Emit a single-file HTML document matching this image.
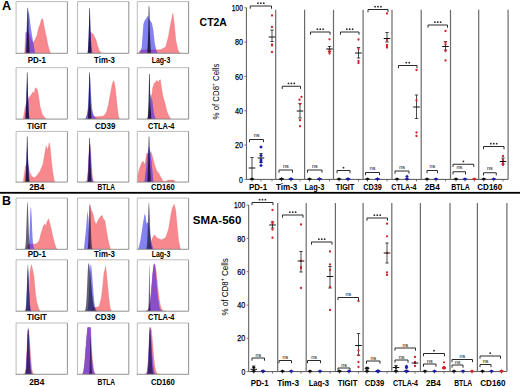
<!DOCTYPE html>
<html><head><meta charset="utf-8"><style>
html,body{margin:0;padding:0;background:#fff;width:520px;height:387px;overflow:hidden}
svg{display:block}
text{font-family:"Liberation Sans",sans-serif;fill:#000}
</style></head><body>
<svg width="520" height="387" viewBox="0 0 520 387" font-family="Liberation Sans, sans-serif">
<rect width="520" height="387" fill="#fff"/>
<defs></defs>
<clipPath id="c16_1"><rect x="16.1" y="1.6" width="51.3" height="51.7"/></clipPath>
<g clip-path="url(#c16_1)">
<polygon points="24.70,53.30 24.70,53.30 24.90,49.10 25.10,44.90 25.30,40.70 25.50,36.50 25.70,32.30 25.90,32.30 26.10,32.30 26.30,32.30 26.50,32.30 26.70,32.30 26.90,32.30 27.10,32.30 27.30,32.30 27.50,32.30 27.70,32.30 27.90,32.30 28.10,32.30 28.30,32.30 28.50,32.30 28.70,32.78 28.90,33.25 29.10,33.73 29.30,34.20 29.50,34.68 29.70,35.16 29.90,35.63 30.10,36.11 30.30,36.59 30.50,37.06 30.70,37.54 30.90,38.02 31.10,38.50 31.30,38.99 31.50,39.47 31.70,39.95 31.90,40.43 32.10,40.91 32.30,41.40 32.50,41.88 32.70,42.36 32.90,42.50 33.10,42.30 33.30,42.10 33.50,41.90 33.70,41.70 33.90,41.50 34.10,41.30 34.30,41.00 34.50,40.60 34.70,40.20 34.90,39.80 35.10,39.40 35.30,39.00 35.50,38.60 35.70,38.19 35.90,37.78 36.10,37.36 36.30,36.95 36.50,36.54 36.70,36.12 36.90,35.71 37.10,35.03 37.30,34.08 37.50,33.13 37.70,32.19 37.90,31.24 38.10,30.29 38.30,29.35 38.50,28.40 38.70,27.90 38.90,27.40 39.10,26.90 39.30,26.40 39.50,25.90 39.70,25.40 39.90,24.90 40.10,24.25 40.30,23.59 40.50,22.94 40.70,22.28 40.90,21.63 41.10,21.02 41.30,20.46 41.50,19.90 41.70,19.34 41.90,18.78 42.10,18.64 42.30,18.92 42.50,19.20 42.70,19.48 42.90,19.76 43.10,20.53 43.30,21.80 43.50,23.07 43.70,24.33 43.90,25.60 44.10,26.55 44.30,27.50 44.50,28.45 44.70,29.40 44.90,30.35 45.10,31.30 45.30,32.25 45.50,33.19 45.70,34.14 45.90,35.09 46.10,36.03 46.30,36.98 46.50,37.93 46.70,38.91 46.90,39.92 47.10,40.94 47.30,41.95 47.50,42.96 47.70,43.98 47.90,44.99 48.10,45.86 48.30,46.57 48.50,47.28 48.70,47.99 48.90,48.70 49.10,49.41 49.30,50.12 49.50,50.83 49.70,51.54 49.90,52.01 50.10,52.22 50.30,52.44 50.50,52.65 50.70,52.87 50.90,53.08 51.10,53.30 51.10,53.30" fill="#f6888e" stroke="#e87070" stroke-width="0.4"/>
<polygon points="25.50,53.30 25.50,53.30 25.70,48.68 25.90,44.07 26.10,39.45 26.30,34.84 26.50,30.22 26.70,25.61 26.90,21.55 27.10,18.05 27.30,14.55 27.50,11.05 27.70,9.63 27.90,10.30 28.10,10.97 28.30,11.59 28.50,12.17 28.70,12.75 28.90,13.33 29.10,13.91 29.30,15.04 29.50,16.71 29.70,18.38 29.90,20.05 30.10,21.72 30.30,23.39 30.50,25.06 30.70,26.73 30.90,28.40 31.10,29.63 31.30,30.87 31.50,32.10 31.70,33.34 31.90,34.57 32.10,35.81 32.30,37.04 32.50,38.28 32.70,39.51 32.90,40.75 33.10,41.98 33.30,43.19 33.50,44.36 33.70,45.54 33.90,46.72 34.10,47.89 34.30,49.07 34.50,50.25 34.70,51.42 34.90,52.60 35.10,52.80 35.30,53.00 35.50,53.20 35.70,53.30 35.70,53.30" fill="#8282f0"/>
<polygon points="25.50,53.30 25.50,53.30 25.70,48.68 25.90,44.07 26.10,39.45 26.30,34.84 26.50,32.30 26.70,32.30 26.90,32.30 27.10,32.30 27.30,32.30 27.50,32.30 27.70,32.30 27.90,32.30 28.10,32.30 28.30,32.30 28.50,32.30 28.70,32.78 28.90,33.25 29.10,33.73 29.30,34.20 29.50,34.68 29.70,35.16 29.90,35.63 30.10,36.11 30.30,36.59 30.50,37.06 30.70,37.54 30.90,38.02 31.10,38.50 31.30,38.99 31.50,39.47 31.70,39.95 31.90,40.43 32.10,40.91 32.30,41.40 32.50,41.88 32.70,42.36 32.90,42.50 33.10,42.30 33.30,43.19 33.50,44.36 33.70,45.54 33.90,46.72 34.10,47.89 34.30,49.07 34.50,50.25 34.70,51.42 34.90,52.60 35.10,52.80 35.30,53.00 35.50,53.20 35.70,53.30 35.70,53.30" fill="#8a4ecb"/>
<polygon points="26.10,53.30 26.10,53.30 26.30,49.14 26.50,44.97 26.70,40.81 26.90,36.06 27.10,28.57 27.30,19.17 27.50,7.80 27.70,7.80 27.90,7.80 28.10,7.80 28.30,13.49 28.50,25.81 28.70,32.51 28.90,38.40 29.10,42.12 29.30,45.85 29.50,49.57 29.70,53.30 29.70,53.30" fill="#141030" fill-opacity="0.85"/>
</g>
<path d="M16.1,53.300000000000004 V1.6 H67.4" fill="none" stroke="#b4b4b4" stroke-width="0.9"/>
<path d="M67.4,1.6 V53.300000000000004 H15.650000000000002" fill="none" stroke="#858585" stroke-width="0.9"/>
<clipPath id="c77_1"><rect x="77.5" y="1.6" width="51.3" height="51.7"/></clipPath>
<g clip-path="url(#c77_1)">
<polygon points="88.10,53.30 88.10,53.30 88.30,52.29 88.50,50.26 88.70,48.23 88.90,46.20 89.10,44.17 89.30,42.14 89.50,40.11 89.70,38.09 89.90,36.06 90.10,34.03 90.30,32.00 90.50,32.15 90.70,32.29 90.90,32.44 91.10,32.59 91.30,32.74 91.50,32.88 91.70,33.03 91.90,33.18 92.10,33.33 92.30,33.47 92.50,33.62 92.70,33.77 92.90,33.92 93.10,34.06 93.30,34.40 93.50,34.80 93.70,35.20 93.90,35.60 94.10,36.00 94.30,36.40 94.50,36.80 94.70,37.20 94.90,37.60 95.10,38.00 95.30,38.40 95.50,38.80 95.70,39.20 95.90,39.60 96.10,40.21 96.30,41.02 96.50,41.84 96.70,42.65 96.90,43.46 97.10,44.28 97.30,45.09 97.50,45.76 97.70,46.29 97.90,46.82 98.10,47.35 98.30,47.87 98.50,48.40 98.70,48.93 98.90,49.45 99.10,49.98 99.30,50.51 99.50,51.04 99.70,51.41 99.90,51.62 100.10,51.83 100.30,52.04 100.50,52.25 100.70,52.46 100.90,52.67 101.10,52.88 101.30,53.09 101.50,53.30 101.50,53.30" fill="#f6888e" stroke="#e87070" stroke-width="0.4"/>
<polygon points="86.30,53.30 86.30,53.29 86.50,53.28 86.70,53.25 86.90,53.17 87.10,53.01 87.30,52.69 87.50,52.09 87.70,51.04 87.90,49.33 88.10,46.75 88.30,43.15 88.50,38.53 88.70,33.12 88.90,27.39 89.10,22.04 89.30,17.88 89.50,15.60 89.70,15.49 89.90,16.97 90.10,19.77 90.30,23.56 90.50,27.95 90.70,32.55 90.90,36.98 91.10,40.96 91.30,44.34 91.50,47.05 91.70,49.11 91.90,50.60 92.10,51.63 92.30,52.31 92.50,52.73 92.70,52.99 92.90,53.14 93.10,53.22 93.30,53.26 93.50,53.28 93.50,53.30" fill="#8282f0"/>
<polygon points="88.10,53.30 88.10,53.30 88.30,52.29 88.50,50.26 88.70,48.23 88.90,46.20 89.10,44.17 89.30,42.14 89.50,40.11 89.70,38.09 89.90,36.06 90.10,34.03 90.30,32.00 90.50,32.15 90.70,32.55 90.90,36.98 91.10,40.96 91.30,44.34 91.50,47.05 91.70,49.11 91.90,50.60 92.10,51.63 92.30,52.31 92.50,52.73 92.70,52.99 92.90,53.14 93.10,53.22 93.30,53.26 93.50,53.28 93.50,53.30" fill="#8a4ecb"/>
<polygon points="87.90,53.30 87.90,53.30 88.10,49.18 88.30,45.06 88.50,40.95 88.70,36.25 88.90,28.84 89.10,19.55 89.30,8.30 89.50,8.30 89.70,8.30 89.90,8.30 90.10,13.93 90.30,26.11 90.50,32.74 90.70,38.56 90.90,42.25 91.10,45.93 91.30,49.62 91.50,53.30 91.50,53.30" fill="#141030" fill-opacity="0.85"/>
</g>
<path d="M77.5,53.300000000000004 V1.6 H128.8" fill="none" stroke="#b4b4b4" stroke-width="0.9"/>
<path d="M128.8,1.6 V53.300000000000004 H77.05" fill="none" stroke="#858585" stroke-width="0.9"/>
<clipPath id="c137_1"><rect x="137.3" y="1.6" width="51.3" height="51.7"/></clipPath>
<g clip-path="url(#c137_1)">
<polygon points="138.30,53.30 138.30,53.30 138.50,53.00 138.70,52.70 138.90,52.40 139.10,52.10 139.30,51.80 139.50,51.50 139.70,51.20 139.90,50.90 140.10,50.60 140.30,50.30 140.50,50.27 140.70,50.24 140.90,50.21 141.10,50.19 141.30,50.16 141.50,50.13 141.70,50.10 141.90,50.07 142.10,50.04 142.30,50.01 142.50,49.99 142.70,49.96 142.90,49.93 143.10,49.90 143.30,49.87 143.50,49.84 143.70,49.81 143.90,49.79 144.10,49.76 144.30,49.73 144.50,49.70 144.70,49.67 144.90,49.64 145.10,49.61 145.30,49.59 145.50,49.56 145.70,49.53 145.90,49.50 146.10,49.47 146.30,49.44 146.50,49.41 146.70,49.39 146.90,49.36 147.10,49.33 147.30,49.30 147.50,49.31 147.70,49.32 147.90,49.33 148.10,49.34 148.30,49.35 148.50,49.36 148.70,49.37 148.90,49.38 149.10,49.39 149.30,49.40 149.50,49.41 149.70,49.42 149.90,49.43 150.10,49.44 150.30,49.45 150.50,49.46 150.70,49.47 150.90,49.48 151.10,49.49 151.30,49.50 151.50,49.51 151.70,49.52 151.90,49.53 152.10,49.54 152.30,49.55 152.50,49.56 152.70,49.57 152.90,49.58 153.10,49.59 153.30,49.60 153.50,49.61 153.70,49.62 153.90,49.63 154.10,49.64 154.30,49.65 154.50,49.66 154.70,49.67 154.90,49.68 155.10,49.69 155.30,49.70 155.50,49.71 155.70,49.72 155.90,49.73 156.10,49.74 156.30,49.75 156.50,49.76 156.70,49.77 156.90,49.78 157.10,49.79 157.30,49.80 157.50,49.79 157.70,49.79 157.90,49.78 158.10,49.78 158.30,49.77 158.50,49.77 158.70,49.76 158.90,49.75 159.10,49.75 159.30,49.74 159.50,49.74 159.70,49.73 159.90,49.73 160.10,49.72 160.30,49.71 160.50,49.71 160.70,49.70 160.90,49.64 161.10,49.53 161.30,49.42 161.50,49.31 161.70,49.20 161.90,49.08 162.10,48.97 162.30,48.86 162.50,48.75 162.70,48.64 162.90,48.52 163.10,48.41 163.30,48.30 163.50,48.19 163.70,48.08 163.90,47.96 164.10,47.85 164.30,47.74 164.50,47.63 164.70,47.52 164.90,47.40 165.10,47.29 165.30,47.18 165.50,47.07 165.70,46.96 165.90,46.51 166.10,45.72 166.30,44.93 166.50,44.15 166.70,43.36 166.90,42.58 167.10,41.79 167.30,41.00 167.50,40.22 167.70,39.43 167.90,38.64 168.10,37.86 168.30,37.07 168.50,36.29 168.70,35.50 168.90,34.34 169.10,33.18 169.30,32.01 169.50,30.85 169.70,29.69 169.90,28.53 170.10,27.37 170.30,26.20 170.50,25.04 170.70,23.88 170.90,22.83 171.10,21.90 171.30,20.97 171.50,20.03 171.70,19.10 171.90,18.17 172.10,17.23 172.30,16.30 172.50,15.37 172.70,14.43 172.90,13.50 173.10,15.04 173.30,16.59 173.50,18.13 173.70,19.67 173.90,21.21 174.10,22.76 174.30,24.30 174.50,26.51 174.70,28.73 174.90,30.94 175.10,33.16 175.30,35.37 175.50,37.59 175.70,39.80 175.90,40.74 176.10,41.69 176.30,42.63 176.50,43.57 176.70,44.51 176.90,45.46 177.10,46.40 177.30,47.34 177.50,48.29 177.70,49.23 177.90,49.91 178.10,50.32 178.30,50.73 178.50,51.15 178.70,51.56 178.90,51.97 179.10,52.39 179.30,52.80 179.50,52.85 179.70,52.90 179.90,52.95 180.10,53.00 180.30,53.05 180.50,53.10 180.70,53.15 180.90,53.20 181.10,53.25 181.30,53.30 181.30,53.30" fill="#f6888e" stroke="#e87070" stroke-width="0.4"/>
<polygon points="139.70,53.30 139.70,53.30 139.90,52.98 140.10,52.35 140.30,51.72 140.50,51.09 140.70,50.46 140.90,49.83 141.10,49.19 141.30,48.56 141.50,47.93 141.70,47.30 141.90,44.57 142.10,41.84 142.30,39.11 142.50,36.38 142.70,33.65 142.90,30.92 143.10,28.19 143.30,25.46 143.50,23.83 143.70,23.29 143.90,22.74 144.10,22.20 144.30,21.66 144.50,21.11 144.70,20.57 144.90,20.17 145.10,19.90 145.30,19.63 145.50,19.37 145.70,19.10 145.90,18.83 146.10,18.57 146.30,18.30 146.50,17.98 146.70,17.66 146.90,17.35 147.10,17.03 147.30,16.71 147.50,16.39 147.70,16.08 147.90,15.76 148.10,15.88 148.30,16.45 148.50,17.02 148.70,17.59 148.90,18.16 149.10,18.73 149.30,19.30 149.50,19.60 149.70,19.89 149.90,20.19 150.10,20.49 150.30,20.78 150.50,21.08 150.70,21.37 150.90,21.67 151.10,21.97 151.30,22.26 151.50,22.56 151.70,22.86 151.90,23.15 152.10,23.84 152.30,24.92 152.50,25.99 152.70,27.07 152.90,28.15 153.10,29.22 153.30,30.30 153.50,32.03 153.70,33.77 153.90,35.50 154.10,37.23 154.30,38.97 154.50,40.70 154.70,42.43 154.90,43.77 155.10,44.71 155.30,45.65 155.50,46.59 155.70,47.54 155.90,48.48 156.10,49.42 156.30,50.36 156.50,51.30 156.70,51.61 156.90,51.92 157.10,52.22 157.30,52.53 157.50,52.84 157.70,53.15 157.90,53.30 157.90,53.30" fill="#8282f0"/>
<polygon points="139.70,53.30 139.70,53.30 139.90,52.98 140.10,52.35 140.30,51.72 140.50,51.09 140.70,50.46 140.90,50.21 141.10,50.19 141.30,50.16 141.50,50.13 141.70,50.10 141.90,50.07 142.10,50.04 142.30,50.01 142.50,49.99 142.70,49.96 142.90,49.93 143.10,49.90 143.30,49.87 143.50,49.84 143.70,49.81 143.90,49.79 144.10,49.76 144.30,49.73 144.50,49.70 144.70,49.67 144.90,49.64 145.10,49.61 145.30,49.59 145.50,49.56 145.70,49.53 145.90,49.50 146.10,49.47 146.30,49.44 146.50,49.41 146.70,49.39 146.90,49.36 147.10,49.33 147.30,49.30 147.50,49.31 147.70,49.32 147.90,49.33 148.10,49.34 148.30,49.35 148.50,49.36 148.70,49.37 148.90,49.38 149.10,49.39 149.30,49.40 149.50,49.41 149.70,49.42 149.90,49.43 150.10,49.44 150.30,49.45 150.50,49.46 150.70,49.47 150.90,49.48 151.10,49.49 151.30,49.50 151.50,49.51 151.70,49.52 151.90,49.53 152.10,49.54 152.30,49.55 152.50,49.56 152.70,49.57 152.90,49.58 153.10,49.59 153.30,49.60 153.50,49.61 153.70,49.62 153.90,49.63 154.10,49.64 154.30,49.65 154.50,49.66 154.70,49.67 154.90,49.68 155.10,49.69 155.30,49.70 155.50,49.71 155.70,49.72 155.90,49.73 156.10,49.74 156.30,50.36 156.50,51.30 156.70,51.61 156.90,51.92 157.10,52.22 157.30,52.53 157.50,52.84 157.70,53.15 157.90,53.30 157.90,53.30" fill="#8a4ecb"/>
<polygon points="147.30,53.30 147.30,53.30 147.50,49.00 147.70,44.70 147.90,40.40 148.10,35.50 148.30,27.75 148.50,18.05 148.70,6.30 148.90,6.30 149.10,6.30 149.30,6.30 149.50,12.18 149.70,24.90 149.90,31.83 150.10,37.91 150.30,41.76 150.50,45.60 150.70,49.45 150.90,53.30 150.90,53.30" fill="#141030" fill-opacity="0.85"/>
</g>
<path d="M137.3,53.300000000000004 V1.6 H188.60000000000002" fill="none" stroke="#b4b4b4" stroke-width="0.9"/>
<path d="M188.60000000000002,1.6 V53.300000000000004 H136.85000000000002" fill="none" stroke="#858585" stroke-width="0.9"/>
<clipPath id="c16_67"><rect x="16.1" y="67.7" width="51.3" height="51.4"/></clipPath>
<g clip-path="url(#c16_67)">
<polygon points="23.10,119.10 23.10,119.10 23.30,118.51 23.50,117.33 23.70,116.15 23.90,114.96 24.10,113.78 24.30,112.60 24.50,111.42 24.70,110.24 24.90,109.05 25.10,107.87 25.30,106.69 25.50,105.86 25.70,105.39 25.90,104.91 26.10,104.44 26.30,103.97 26.50,103.49 26.70,103.02 26.90,102.54 27.10,102.07 27.30,101.59 27.50,101.12 27.70,100.65 27.90,100.17 28.10,99.70 28.30,99.22 28.50,98.75 28.70,98.27 28.90,97.80 29.10,97.55 29.30,97.31 29.50,97.06 29.70,96.82 29.90,96.57 30.10,96.33 30.30,96.08 30.50,95.84 30.70,95.59 30.90,95.35 31.10,95.10 31.30,94.74 31.50,94.39 31.70,94.03 31.90,93.68 32.10,93.32 32.30,92.97 32.50,92.61 32.70,92.26 32.90,91.90 33.10,92.16 33.30,92.42 33.50,92.68 33.70,92.95 33.90,93.21 34.10,93.47 34.30,93.07 34.50,92.02 34.70,90.96 34.90,89.91 35.10,88.85 35.30,87.80 35.50,87.94 35.70,88.09 35.90,88.23 36.10,88.38 36.30,88.52 36.50,88.67 36.70,88.81 36.90,88.96 37.10,89.10 37.30,90.07 37.50,91.05 37.70,92.02 37.90,92.99 38.10,93.97 38.30,94.94 38.50,95.91 38.70,97.11 38.90,98.52 39.10,99.94 39.30,101.35 39.50,102.76 39.70,104.18 39.90,105.59 40.10,106.67 40.30,107.41 40.50,108.16 40.70,108.90 40.90,109.64 41.10,110.39 41.30,111.13 41.50,111.87 41.70,112.61 41.90,113.36 42.10,114.10 42.30,114.37 42.50,114.65 42.70,114.92 42.90,115.19 43.10,115.46 43.30,115.74 43.50,116.01 43.70,116.28 43.90,116.55 44.10,116.83 44.30,117.10 44.50,117.32 44.70,117.54 44.90,117.77 45.10,117.99 45.30,118.21 45.50,118.43 45.70,118.66 45.90,118.88 46.10,119.10 46.10,119.10" fill="#f6888e" stroke="#e87070" stroke-width="0.4"/>
<polygon points="23.90,119.10 23.90,119.09 24.10,119.08 24.30,119.05 24.50,118.97 24.70,118.81 24.90,118.49 25.10,117.89 25.30,116.84 25.50,115.13 25.70,112.55 25.90,108.95 26.10,104.33 26.30,98.92 26.50,93.19 26.70,87.84 26.90,83.68 27.10,81.40 27.30,81.33 27.50,83.15 27.70,86.53 27.90,91.02 28.10,96.05 28.30,101.09 28.50,105.71 28.70,109.62 28.90,112.72 29.10,115.01 29.30,116.60 29.50,117.65 29.70,118.30 29.90,118.68 30.10,118.89 30.30,119.00 30.50,119.05 30.70,119.08 30.70,119.10" fill="#8282f0"/>
<polygon points="23.90,119.10 23.90,119.09 24.10,119.08 24.30,119.05 24.50,118.97 24.70,118.81 24.90,118.49 25.10,117.89 25.30,116.84 25.50,115.13 25.70,112.55 25.90,108.95 26.10,104.44 26.30,103.97 26.50,103.49 26.70,103.02 26.90,102.54 27.10,102.07 27.30,101.59 27.50,101.12 27.70,100.65 27.90,100.17 28.10,99.70 28.30,101.09 28.50,105.71 28.70,109.62 28.90,112.72 29.10,115.01 29.30,116.60 29.50,117.65 29.70,118.30 29.90,118.68 30.10,118.89 30.30,119.00 30.50,119.05 30.70,119.08 30.70,119.10" fill="#8a4ecb"/>
<polygon points="25.50,119.10 25.50,119.10 25.70,114.85 25.90,110.59 26.10,106.34 26.30,101.48 26.50,93.83 26.70,84.22 26.90,72.60 27.10,72.60 27.30,72.60 27.50,72.60 27.70,78.41 27.90,91.00 28.10,97.86 28.30,103.87 28.50,107.68 28.70,111.49 28.90,115.29 29.10,119.10 29.10,119.10" fill="#141030" fill-opacity="0.85"/>
</g>
<path d="M16.1,119.1 V67.7 H67.4" fill="none" stroke="#b4b4b4" stroke-width="0.9"/>
<path d="M67.4,67.7 V119.1 H15.650000000000002" fill="none" stroke="#858585" stroke-width="0.9"/>
<clipPath id="c77_67"><rect x="77.5" y="67.7" width="51.3" height="51.4"/></clipPath>
<g clip-path="url(#c77_67)">
<polygon points="85.90,119.10 85.90,119.10 86.10,118.70 86.30,117.90 86.50,117.10 86.70,116.30 86.90,115.50 87.10,114.70 87.30,113.90 87.50,113.10 87.70,112.17 87.90,111.23 88.10,110.30 88.30,109.37 88.50,108.43 88.70,107.50 88.90,106.57 89.10,106.00 89.30,105.80 89.50,105.60 89.70,105.40 89.90,105.20 90.10,105.50 90.30,106.30 90.50,107.10 90.70,107.90 90.90,108.70 91.10,109.50 91.30,110.30 91.50,111.10 91.70,111.90 91.90,112.70 92.10,113.50 92.30,114.30 92.50,115.10 92.70,115.30 92.90,115.50 93.10,115.70 93.30,115.90 93.50,116.10 93.70,116.30 93.90,116.50 94.10,116.61 94.30,116.62 94.50,116.63 94.70,116.64 94.90,116.65 95.10,116.66 95.30,116.67 95.50,116.69 95.70,116.70 95.90,116.71 96.10,116.72 96.30,116.73 96.50,116.74 96.70,116.75 96.90,116.77 97.10,116.78 97.30,116.79 97.50,116.80 97.70,116.78 97.90,116.75 98.10,116.73 98.30,116.71 98.50,116.68 98.70,116.66 98.90,116.64 99.10,116.61 99.30,116.59 99.50,116.57 99.70,116.54 99.90,116.52 100.10,116.50 100.30,116.47 100.50,116.45 100.70,116.43 100.90,116.40 101.10,116.38 101.30,116.36 101.50,116.33 101.70,116.31 101.90,116.29 102.10,116.26 102.30,116.24 102.50,116.22 102.70,116.19 102.90,116.17 103.10,116.15 103.30,116.12 103.50,116.10 103.70,115.86 103.90,115.62 104.10,115.38 104.30,115.14 104.50,114.90 104.70,114.66 104.90,114.42 105.10,114.18 105.30,113.94 105.50,113.70 105.70,113.46 105.90,113.22 106.10,112.83 106.30,112.29 106.50,111.75 106.70,111.22 106.90,110.68 107.10,110.14 107.30,109.60 107.50,108.73 107.70,107.87 107.90,107.00 108.10,106.13 108.30,105.27 108.50,104.40 108.70,103.53 108.90,102.53 109.10,101.39 109.30,100.24 109.50,99.10 109.70,97.96 109.90,96.81 110.10,95.67 110.30,94.56 110.50,93.48 110.70,92.41 110.90,91.33 111.10,90.25 111.30,89.18 111.50,88.10 111.70,87.08 111.90,86.06 112.10,85.03 112.30,84.01 112.50,83.29 112.70,82.88 112.90,82.46 113.10,82.05 113.30,81.64 113.50,81.22 113.70,80.81 113.90,81.09 114.10,82.06 114.30,83.03 114.50,84.01 114.70,84.98 114.90,85.95 115.10,86.93 115.30,87.90 115.50,89.96 115.70,92.01 115.90,94.07 116.10,96.13 116.30,98.19 116.50,100.24 116.70,102.30 116.90,104.03 117.10,105.77 117.30,107.50 117.50,109.23 117.70,110.97 117.90,112.70 118.10,114.43 118.30,115.65 118.50,116.34 118.70,117.03 118.90,117.72 119.10,118.41 119.30,119.10 119.30,119.10" fill="#f6888e" stroke="#e87070" stroke-width="0.4"/>
<polygon points="82.70,119.10 82.70,119.08 82.90,119.08 83.10,119.07 83.30,119.06 83.50,119.04 83.70,119.02 83.90,118.99 84.10,118.95 84.30,118.89 84.50,118.83 84.70,118.74 84.90,118.64 85.10,118.50 85.30,118.34 85.50,118.14 85.70,117.91 85.90,117.63 86.10,117.29 86.30,116.89 86.50,116.42 86.70,115.85 86.90,115.13 87.10,114.23 87.30,113.05 87.50,111.50 87.70,109.46 87.90,106.81 88.10,103.48 88.30,99.46 88.50,94.88 88.70,89.98 88.90,85.14 89.10,80.83 89.30,77.54 89.50,75.67 89.70,75.37 89.90,76.28 90.10,78.25 90.30,81.05 90.50,84.44 90.70,88.15 90.90,91.94 91.10,95.58 91.30,98.92 91.50,101.88 91.70,104.40 91.90,106.51 92.10,108.25 92.30,109.67 92.50,110.83 92.70,111.80 92.90,112.62 93.10,113.33 93.30,113.97 93.50,114.54 93.70,115.06 93.90,115.53 94.10,115.97 94.30,116.36 94.50,116.72 94.70,117.05 94.90,117.34 95.10,117.60 95.30,117.83 95.50,118.03 95.70,118.21 95.90,118.36 96.10,118.49 96.30,118.60 96.50,118.69 96.70,118.77 96.90,118.83 97.10,118.89 97.30,118.93 97.50,118.97 97.70,119.00 97.90,119.02 98.10,119.04 98.30,119.05 98.50,119.06 98.70,119.07 98.90,119.08 99.10,119.08 99.10,119.10" fill="#8282f0"/>
<polygon points="85.90,119.10 85.90,119.10 86.10,118.70 86.30,117.90 86.50,117.10 86.70,116.30 86.90,115.50 87.10,114.70 87.30,113.90 87.50,113.10 87.70,112.17 87.90,111.23 88.10,110.30 88.30,109.37 88.50,108.43 88.70,107.50 88.90,106.57 89.10,106.00 89.30,105.80 89.50,105.60 89.70,105.40 89.90,105.20 90.10,105.50 90.30,106.30 90.50,107.10 90.70,107.90 90.90,108.70 91.10,109.50 91.30,110.30 91.50,111.10 91.70,111.90 91.90,112.70 92.10,113.50 92.30,114.30 92.50,115.10 92.70,115.30 92.90,115.50 93.10,115.70 93.30,115.90 93.50,116.10 93.70,116.30 93.90,116.50 94.10,116.61 94.30,116.62 94.50,116.72 94.70,117.05 94.90,117.34 95.10,117.60 95.30,117.83 95.50,118.03 95.70,118.21 95.90,118.36 96.10,118.49 96.30,118.60 96.50,118.69 96.70,118.77 96.90,118.83 97.10,118.89 97.30,118.93 97.50,118.97 97.70,119.00 97.90,119.02 98.10,119.04 98.30,119.05 98.50,119.06 98.70,119.07 98.90,119.08 99.10,119.08 99.10,119.10" fill="#8a4ecb"/>
<polygon points="87.90,119.10 87.90,119.10 88.10,114.85 88.30,110.59 88.50,106.34 88.70,101.48 88.90,93.83 89.10,84.22 89.30,72.60 89.50,72.60 89.70,72.60 89.90,72.60 90.10,78.41 90.30,91.00 90.50,97.86 90.70,103.87 90.90,107.68 91.10,111.49 91.30,115.29 91.50,119.10 91.50,119.10" fill="#141030" fill-opacity="0.85"/>
</g>
<path d="M77.5,119.1 V67.7 H128.8" fill="none" stroke="#b4b4b4" stroke-width="0.9"/>
<path d="M128.8,67.7 V119.1 H77.05" fill="none" stroke="#858585" stroke-width="0.9"/>
<clipPath id="c137_67"><rect x="137.3" y="67.7" width="51.3" height="51.4"/></clipPath>
<g clip-path="url(#c137_67)">
<polygon points="146.90,119.10 146.90,119.10 147.10,118.78 147.30,118.47 147.50,118.15 147.70,117.84 147.90,117.52 148.10,117.21 148.30,116.89 148.50,116.57 148.70,116.26 148.90,115.72 149.10,114.97 149.30,114.22 149.50,113.46 149.70,112.71 149.90,111.96 150.10,111.21 150.30,110.45 150.50,109.70 150.70,107.58 150.90,105.46 151.10,103.34 151.30,101.22 151.50,99.10 151.70,97.27 151.90,95.43 152.10,93.60 152.30,91.77 152.50,89.93 152.70,88.10 152.90,87.46 153.10,86.81 153.30,86.17 153.50,85.53 153.70,84.89 153.90,84.24 154.10,83.60 154.30,83.39 154.50,83.18 154.70,82.96 154.90,82.75 155.10,82.54 155.30,82.33 155.50,82.12 155.70,81.91 155.90,81.69 156.10,81.48 156.30,81.26 156.50,81.05 156.70,80.84 156.90,80.62 157.10,80.41 157.30,80.55 157.50,81.06 157.70,81.57 157.90,82.08 158.10,82.59 158.30,83.10 158.50,82.54 158.70,81.98 158.90,81.42 159.10,80.86 159.30,80.30 159.50,80.18 159.70,80.06 159.90,79.94 160.10,79.82 160.30,79.70 160.50,81.12 160.70,82.54 160.90,83.95 161.10,85.37 161.30,86.79 161.50,88.11 161.70,89.34 161.90,90.57 162.10,91.80 162.30,93.03 162.50,94.26 162.70,95.49 162.90,96.43 163.10,97.10 163.30,97.77 163.50,98.43 163.70,99.10 163.90,99.77 164.10,100.43 164.30,101.10 164.50,101.77 164.70,102.43 164.90,103.10 165.10,103.92 165.30,104.74 165.50,105.56 165.70,106.38 165.90,107.20 166.10,108.01 166.30,108.83 166.50,109.65 166.70,110.47 166.90,111.29 167.10,111.93 167.30,112.38 167.50,112.84 167.70,113.29 167.90,113.75 168.10,114.20 168.30,114.65 168.50,115.11 168.70,115.56 168.90,116.02 169.10,116.47 169.30,116.85 169.50,117.15 169.70,117.45 169.90,117.75 170.10,118.05 170.30,118.35 170.50,118.65 170.70,118.95 170.90,119.10 170.90,119.10" fill="#f6888e" stroke="#e87070" stroke-width="0.4"/>
<polygon points="146.10,119.10 146.10,119.09 146.30,119.08 146.50,119.06 146.70,119.03 146.90,118.97 147.10,118.88 147.30,118.74 147.50,118.53 147.70,118.21 147.90,117.75 148.10,117.11 148.30,116.25 148.50,115.12 148.70,113.69 148.90,111.96 149.10,109.93 149.30,107.65 149.50,105.20 149.70,102.68 149.90,100.23 150.10,98.01 150.30,96.18 150.50,94.87 150.70,94.19 150.90,94.14 151.10,94.44 151.30,95.05 151.50,95.92 151.70,97.04 151.90,98.36 152.10,99.84 152.30,101.43 152.50,103.10 152.70,104.78 152.90,106.44 153.10,108.05 153.30,109.57 153.50,110.98 153.70,112.27 153.90,113.43 154.10,114.44 154.30,115.32 154.50,116.08 154.70,116.71 154.90,117.23 155.10,117.66 155.30,118.00 155.50,118.27 155.70,118.49 155.90,118.65 156.10,118.77 156.30,118.87 156.50,118.93 156.70,118.98 156.90,119.02 157.10,119.05 157.30,119.06 157.50,119.08 157.70,119.08 157.70,119.10" fill="#8282f0"/>
<polygon points="146.90,119.10 146.90,119.10 147.10,118.88 147.30,118.74 147.50,118.53 147.70,118.21 147.90,117.75 148.10,117.21 148.30,116.89 148.50,116.57 148.70,116.26 148.90,115.72 149.10,114.97 149.30,114.22 149.50,113.46 149.70,112.71 149.90,111.96 150.10,111.21 150.30,110.45 150.50,109.70 150.70,107.58 150.90,105.46 151.10,103.34 151.30,101.22 151.50,99.10 151.70,97.27 151.90,98.36 152.10,99.84 152.30,101.43 152.50,103.10 152.70,104.78 152.90,106.44 153.10,108.05 153.30,109.57 153.50,110.98 153.70,112.27 153.90,113.43 154.10,114.44 154.30,115.32 154.50,116.08 154.70,116.71 154.90,117.23 155.10,117.66 155.30,118.00 155.50,118.27 155.70,118.49 155.90,118.65 156.10,118.77 156.30,118.87 156.50,118.93 156.70,118.98 156.90,119.02 157.10,119.05 157.30,119.06 157.50,119.08 157.70,119.08 157.70,119.10" fill="#8a4ecb"/>
<polygon points="147.70,119.10 147.70,119.10 147.90,114.98 148.10,110.86 148.30,106.75 148.50,102.05 148.70,94.64 148.90,85.35 149.10,74.10 149.30,74.10 149.50,74.10 149.70,74.10 149.90,79.73 150.10,91.91 150.30,98.54 150.50,104.36 150.70,108.05 150.90,111.73 151.10,115.42 151.30,119.10 151.30,119.10" fill="#141030" fill-opacity="0.85"/>
</g>
<path d="M137.3,119.1 V67.7 H188.60000000000002" fill="none" stroke="#b4b4b4" stroke-width="0.9"/>
<path d="M188.60000000000002,67.7 V119.1 H136.85000000000002" fill="none" stroke="#858585" stroke-width="0.9"/>
<clipPath id="c16_131"><rect x="16.1" y="131.4" width="51.3" height="50.7"/></clipPath>
<g clip-path="url(#c16_131)">
<polygon points="23.10,182.10 23.10,182.10 23.30,181.39 23.50,179.97 23.70,178.55 23.90,177.14 24.10,175.72 24.30,174.30 24.50,172.88 24.70,171.46 24.90,170.05 25.10,168.63 25.30,167.21 25.50,166.29 25.70,165.87 25.90,165.45 26.10,165.03 26.30,164.61 26.50,164.20 26.70,163.78 26.90,163.36 27.10,162.94 27.30,162.52 27.50,162.10 27.70,163.05 27.90,164.00 28.10,164.96 28.30,165.91 28.50,166.86 28.70,167.81 28.90,168.77 29.10,169.72 29.30,170.67 29.50,171.62 29.70,172.30 29.90,172.71 30.10,173.12 30.30,173.53 30.50,173.94 30.70,174.35 30.90,174.76 31.10,175.17 31.30,175.58 31.50,175.99 31.70,176.40 31.90,176.50 32.10,176.59 32.30,176.69 32.50,176.79 32.70,176.88 32.90,176.98 33.10,177.08 33.30,177.17 33.50,177.27 33.70,177.37 33.90,177.46 34.10,177.56 34.30,177.66 34.50,177.75 34.70,177.70 34.90,177.50 35.10,177.30 35.30,177.10 35.50,176.90 35.70,176.70 35.90,176.50 36.10,176.30 36.30,176.10 36.50,175.90 36.70,175.70 36.90,175.50 37.10,175.30 37.30,175.10 37.50,174.85 37.70,174.56 37.90,174.26 38.10,173.96 38.30,173.67 38.50,173.37 38.70,173.07 38.90,172.78 39.10,172.48 39.30,172.18 39.50,171.89 39.70,171.59 39.90,171.29 40.10,171.00 40.30,170.70 40.50,170.23 40.70,169.76 40.90,169.29 41.10,168.81 41.30,168.34 41.50,167.87 41.70,167.40 41.90,166.93 42.10,166.46 42.30,165.99 42.50,165.51 42.70,165.04 42.90,164.57 43.10,164.10 43.30,162.90 43.50,161.70 43.70,160.50 43.90,159.30 44.10,158.10 44.30,156.90 44.50,155.70 44.70,154.50 44.90,153.30 45.10,152.10 45.30,150.90 45.50,149.70 45.70,148.50 45.90,147.30 46.10,146.10 46.30,146.63 46.50,147.17 46.70,147.70 46.90,148.23 47.10,148.77 47.30,149.30 47.50,149.83 47.70,149.68 47.90,148.83 48.10,147.98 48.30,147.14 48.50,146.29 48.70,145.44 48.90,144.59 49.10,143.75 49.30,142.90 49.50,144.14 49.70,145.38 49.90,146.62 50.10,147.86 50.30,149.10 50.50,151.32 50.70,153.54 50.90,155.77 51.10,157.99 51.30,159.97 51.50,161.70 51.70,163.43 51.90,165.17 52.10,166.90 52.30,168.63 52.50,170.37 52.70,172.10 52.90,173.31 53.10,174.53 53.30,175.74 53.50,176.96 53.70,178.17 53.90,179.39 54.10,180.60 54.30,180.90 54.50,181.20 54.70,181.50 54.90,181.80 55.10,182.10 55.10,182.10" fill="#f6888e" stroke="#e87070" stroke-width="0.4"/>
<polygon points="24.10,182.10 24.10,182.08 24.30,182.05 24.50,181.98 24.70,181.83 24.90,181.54 25.10,180.98 25.30,180.01 25.50,178.44 25.70,176.07 25.90,172.75 26.10,168.50 26.30,163.51 26.50,158.23 26.70,153.31 26.90,149.48 27.10,147.37 27.30,147.27 27.50,148.64 27.70,151.21 27.90,154.71 28.10,158.76 28.30,162.99 28.50,167.07 28.70,170.74 28.90,173.85 29.10,176.34 29.30,178.24 29.50,179.61 29.70,180.56 29.90,181.19 30.10,181.58 30.30,181.81 30.50,181.95 30.70,182.02 30.90,182.06 31.10,182.08 31.10,182.10" fill="#8282f0"/>
<polygon points="24.10,182.10 24.10,182.08 24.30,182.05 24.50,181.98 24.70,181.83 24.90,181.54 25.10,180.98 25.30,180.01 25.50,178.44 25.70,176.07 25.90,172.75 26.10,168.50 26.30,164.61 26.50,164.20 26.70,163.78 26.90,163.36 27.10,162.94 27.30,162.52 27.50,162.10 27.70,163.05 27.90,164.00 28.10,164.96 28.30,165.91 28.50,167.07 28.70,170.74 28.90,173.85 29.10,176.34 29.30,178.24 29.50,179.61 29.70,180.56 29.90,181.19 30.10,181.58 30.30,181.81 30.50,181.95 30.70,182.02 30.90,182.06 31.10,182.08 31.10,182.10" fill="#8a4ecb"/>
<polygon points="25.50,182.10 25.50,182.10 25.70,177.94 25.90,173.77 26.10,169.61 26.30,164.86 26.50,157.37 26.70,147.97 26.90,136.60 27.10,136.60 27.30,136.60 27.50,136.60 27.70,142.29 27.90,154.61 28.10,161.31 28.30,167.20 28.50,170.92 28.70,174.65 28.90,178.37 29.10,182.10 29.10,182.10" fill="#141030" fill-opacity="0.85"/>
</g>
<path d="M16.1,182.10000000000002 V131.4 H67.4" fill="none" stroke="#b4b4b4" stroke-width="0.9"/>
<path d="M67.4,131.4 V182.10000000000002 H15.650000000000002" fill="none" stroke="#858585" stroke-width="0.9"/>
<clipPath id="c77_131"><rect x="77.5" y="131.4" width="51.3" height="50.7"/></clipPath>
<g clip-path="url(#c77_131)">
<polygon points="85.50,182.10 85.50,182.08 85.70,182.06 85.90,182.03 86.10,181.97 86.30,181.86 86.50,181.68 86.70,181.38 86.90,180.92 87.10,180.23 87.30,179.23 87.50,177.83 87.70,175.96 87.90,173.55 88.10,170.59 88.30,167.10 88.50,163.20 88.70,159.05 88.90,154.91 89.10,151.07 89.30,147.83 89.50,145.49 89.70,144.26 89.90,144.21 90.10,145.10 90.30,146.81 90.50,149.23 90.70,152.20 90.90,155.53 91.10,159.05 91.30,162.57 91.50,165.94 91.70,169.04 91.90,171.79 92.10,174.16 92.30,176.12 92.50,177.70 92.70,178.94 92.90,179.89 93.10,180.58 93.30,181.09 93.50,181.44 93.70,181.68 93.90,181.84 94.10,181.94 94.30,182.00 94.50,182.04 94.70,182.07 94.90,182.08 94.90,182.10" fill="#f6888e" stroke="#e87070" stroke-width="0.4"/>
<polygon points="85.70,182.10 85.70,182.08 85.90,182.06 86.10,182.02 86.30,181.94 86.50,181.79 86.70,181.53 86.90,181.11 87.10,180.43 87.30,179.40 87.50,177.91 87.70,175.85 87.90,173.14 88.10,169.76 88.30,165.78 88.50,161.35 88.70,156.75 88.90,152.36 89.10,148.57 89.30,145.77 89.50,144.29 89.70,144.23 89.90,145.27 90.10,147.26 90.30,150.05 90.50,153.42 90.70,157.14 90.90,160.97 91.10,164.70 91.30,168.17 91.50,171.25 91.70,173.88 91.90,176.05 92.10,177.76 92.30,179.08 92.50,180.05 92.70,180.75 92.90,181.23 93.10,181.56 93.30,181.77 93.50,181.91 93.70,181.99 93.90,182.04 94.10,182.07 94.30,182.08 94.30,182.10" fill="#8282f0"/>
<polygon points="85.70,182.10 85.70,182.08 85.90,182.06 86.10,182.02 86.30,181.94 86.50,181.79 86.70,181.53 86.90,181.11 87.10,180.43 87.30,179.40 87.50,177.91 87.70,175.96 87.90,173.55 88.10,170.59 88.30,167.10 88.50,163.20 88.70,159.05 88.90,154.91 89.10,151.07 89.30,147.83 89.50,145.49 89.70,144.26 89.90,145.27 90.10,147.26 90.30,150.05 90.50,153.42 90.70,157.14 90.90,160.97 91.10,164.70 91.30,168.17 91.50,171.25 91.70,173.88 91.90,176.05 92.10,177.76 92.30,179.08 92.50,180.05 92.70,180.75 92.90,181.23 93.10,181.56 93.30,181.77 93.50,181.91 93.70,181.99 93.90,182.04 94.10,182.07 94.30,182.08 94.30,182.10" fill="#8a4ecb"/>
<polygon points="87.90,182.10 87.90,182.10 88.10,178.07 88.30,174.05 88.50,170.02 88.70,165.43 88.90,158.18 89.10,149.10 89.30,138.10 89.50,138.10 89.70,138.10 89.90,138.10 90.10,143.60 90.30,155.51 90.50,162.00 90.70,167.69 90.90,171.29 91.10,174.90 91.30,178.50 91.50,182.10 91.50,182.10" fill="#141030" fill-opacity="0.85"/>
</g>
<path d="M77.5,182.10000000000002 V131.4 H128.8" fill="none" stroke="#b4b4b4" stroke-width="0.9"/>
<path d="M128.8,131.4 V182.10000000000002 H77.05" fill="none" stroke="#858585" stroke-width="0.9"/>
<clipPath id="c137_131"><rect x="137.3" y="131.4" width="51.3" height="50.7"/></clipPath>
<g clip-path="url(#c137_131)">
<polygon points="137.30,182.10 137.30,177.80 137.50,176.97 137.70,176.14 137.90,175.31 138.10,174.49 138.30,173.66 138.50,172.83 138.70,172.00 138.90,171.17 139.10,170.34 139.30,169.51 139.50,168.83 139.70,168.29 139.90,167.74 140.10,167.20 140.30,166.66 140.50,166.11 140.70,165.57 140.90,165.03 141.10,164.49 141.30,163.94 141.50,163.40 141.70,163.09 141.90,162.79 142.10,162.48 142.30,162.17 142.50,161.87 142.70,161.56 142.90,161.25 143.10,161.30 143.30,161.70 143.50,162.10 143.70,162.50 143.90,162.90 144.10,163.30 144.30,163.70 144.50,164.10 144.70,164.50 144.90,164.90 145.10,163.62 145.30,162.34 145.50,161.07 145.70,159.79 145.90,158.51 146.10,157.23 146.30,155.96 146.50,154.68 146.70,153.40 146.90,153.40 147.10,153.40 147.30,153.40 147.50,153.40 147.70,153.40 147.90,153.40 148.10,153.40 148.30,153.40 148.50,153.40 148.70,153.40 148.90,153.40 149.10,153.40 149.30,153.40 149.50,153.40 149.70,153.26 149.90,152.98 150.10,152.71 150.30,152.43 150.50,152.15 150.70,151.88 150.90,151.60 151.10,152.21 151.30,152.83 151.50,153.44 151.70,154.05 151.90,154.67 152.10,155.28 152.30,155.89 152.50,156.61 152.70,157.44 152.90,158.27 153.10,159.10 153.30,159.93 153.50,160.76 153.70,161.59 153.90,162.41 154.10,163.24 154.30,164.07 154.50,164.90 154.70,165.43 154.90,165.95 155.10,166.48 155.30,167.01 155.50,167.54 155.70,168.06 155.90,168.59 156.10,169.12 156.30,169.65 156.50,170.17 156.70,170.70 156.90,170.96 157.10,171.23 157.30,171.49 157.50,171.75 157.70,172.02 157.90,172.28 158.10,172.55 158.30,172.81 158.50,173.07 158.70,173.34 158.90,173.60 159.10,173.98 159.30,174.36 159.50,174.75 159.70,175.13 159.90,175.51 160.10,175.89 160.30,176.27 160.50,176.65 160.70,177.04 160.90,177.42 161.10,177.80 161.30,178.13 161.50,178.45 161.70,178.78 161.90,179.11 162.10,179.44 162.30,179.76 162.50,180.09 162.70,180.42 162.90,180.75 163.10,181.07 163.30,181.40 163.50,181.42 163.70,181.44 163.90,181.46 164.10,181.48 164.30,181.50 164.50,181.52 164.70,181.54 164.90,181.56 165.10,181.58 165.30,181.60 165.50,181.50 165.70,181.40 165.90,181.30 166.10,181.20 166.30,181.10 166.50,181.00 166.70,180.90 166.90,180.80 167.10,180.70 167.30,180.60 167.50,180.50 167.70,180.40 167.90,180.30 168.10,180.20 168.30,180.10 168.50,180.10 168.70,180.10 168.90,180.10 169.10,180.10 169.30,180.10 169.50,180.10 169.70,180.10 169.90,180.10 170.10,180.10 170.30,180.10 170.50,180.10 170.70,180.10 170.90,180.10 171.10,180.10 171.30,180.10 171.50,180.10 171.70,180.10 171.90,180.10 172.10,180.10 172.30,180.10 172.50,180.10 172.70,180.10 172.90,180.10 173.10,180.10 173.30,180.10 173.50,180.10 173.70,180.10 173.90,180.23 174.10,180.50 174.30,180.77 174.50,181.03 174.70,181.30 174.90,181.57 175.10,181.83 175.30,182.10 175.30,182.10" fill="#f6888e" stroke="#e87070" stroke-width="0.4"/>
<polygon points="144.30,182.10 144.30,182.10 144.50,181.31 144.70,179.73 144.90,178.15 145.10,176.57 145.30,174.99 145.50,173.42 145.70,171.84 145.90,170.26 146.10,168.68 146.30,167.10 146.50,165.10 146.70,163.10 146.90,161.10 147.10,159.10 147.30,157.10 147.50,155.10 147.70,153.10 147.90,151.43 148.10,150.10 148.30,148.77 148.50,147.43 148.70,146.10 148.90,146.65 149.10,147.19 149.30,147.74 149.50,148.28 149.70,148.83 149.90,149.83 150.10,151.30 150.30,152.77 150.50,154.23 150.70,155.70 150.90,157.17 151.10,158.63 151.30,160.10 151.50,162.20 151.70,164.29 151.90,166.39 152.10,168.48 152.30,170.58 152.50,172.67 152.70,174.77 152.90,176.86 153.10,178.96 153.30,181.05 153.50,182.10 153.50,182.10" fill="#8282f0"/>
<polygon points="144.30,182.10 144.30,182.10 144.50,181.31 144.70,179.73 144.90,178.15 145.10,176.57 145.30,174.99 145.50,173.42 145.70,171.84 145.90,170.26 146.10,168.68 146.30,167.10 146.50,165.10 146.70,163.10 146.90,161.10 147.10,159.10 147.30,157.10 147.50,155.10 147.70,153.40 147.90,153.40 148.10,153.40 148.30,153.40 148.50,153.40 148.70,153.40 148.90,153.40 149.10,153.40 149.30,153.40 149.50,153.40 149.70,153.26 149.90,152.98 150.10,152.71 150.30,152.77 150.50,154.23 150.70,155.70 150.90,157.17 151.10,158.63 151.30,160.10 151.50,162.20 151.70,164.29 151.90,166.39 152.10,168.48 152.30,170.58 152.50,172.67 152.70,174.77 152.90,176.86 153.10,178.96 153.30,181.05 153.50,182.10 153.50,182.10" fill="#8a4ecb"/>
<polygon points="147.30,182.10 147.30,182.10 147.50,177.94 147.70,173.77 147.90,169.61 148.10,164.86 148.30,157.37 148.50,147.97 148.70,136.60 148.90,136.60 149.10,136.60 149.30,136.60 149.50,142.29 149.70,154.61 149.90,161.31 150.10,167.20 150.30,170.92 150.50,174.65 150.70,178.37 150.90,182.10 150.90,182.10" fill="#141030" fill-opacity="0.85"/>
</g>
<path d="M137.3,182.10000000000002 V131.4 H188.60000000000002" fill="none" stroke="#b4b4b4" stroke-width="0.9"/>
<path d="M188.60000000000002,131.4 V182.10000000000002 H136.85000000000002" fill="none" stroke="#858585" stroke-width="0.9"/>
<clipPath id="c16_198"><rect x="16.1" y="198.1" width="51.3" height="51.2"/></clipPath>
<g clip-path="url(#c16_198)">
<polygon points="26.50,249.30 26.50,249.30 26.70,248.97 26.90,248.30 27.10,247.63 27.30,246.97 27.50,246.30 27.70,245.63 27.90,244.97 28.10,244.30 28.30,244.28 28.50,244.26 28.70,244.24 28.90,244.22 29.10,244.20 29.30,244.18 29.50,244.16 29.70,244.14 29.90,244.12 30.10,244.10 30.30,244.08 30.50,244.06 30.70,244.04 30.90,244.02 31.10,244.00 31.30,243.98 31.50,243.96 31.70,243.94 31.90,243.92 32.10,243.90 32.30,243.93 32.50,243.95 32.70,243.98 32.90,244.01 33.10,244.03 33.30,244.06 33.50,244.09 33.70,244.11 33.90,244.14 34.10,244.17 34.30,244.19 34.50,244.22 34.70,244.25 34.90,244.27 35.10,244.30 35.30,244.20 35.50,244.10 35.70,244.00 35.90,243.90 36.10,243.80 36.30,243.70 36.50,243.60 36.70,243.50 36.90,243.40 37.10,243.30 37.30,243.06 37.50,242.82 37.70,242.59 37.90,242.35 38.10,242.11 38.30,241.87 38.50,241.63 38.70,241.40 38.90,241.16 39.10,240.92 39.30,240.41 39.50,239.64 39.70,238.87 39.90,238.10 40.10,237.32 40.30,236.55 40.50,235.78 40.70,235.00 40.90,234.23 41.10,233.46 41.30,232.69 41.50,232.00 41.70,231.39 41.90,230.78 42.10,230.17 42.30,229.56 42.50,228.95 42.70,228.34 42.90,227.73 43.10,227.12 43.30,226.51 43.50,225.90 43.70,225.59 43.90,225.27 44.10,224.96 44.30,224.64 44.50,224.33 44.70,224.01 44.90,223.70 45.10,224.32 45.30,224.94 45.50,225.56 45.70,226.18 45.90,226.80 46.10,225.93 46.30,225.07 46.50,224.20 46.70,223.33 46.90,222.47 47.10,221.60 47.30,221.20 47.50,220.80 47.70,220.40 47.90,220.00 48.10,219.60 48.30,219.20 48.50,218.80 48.70,219.50 48.90,220.20 49.10,220.90 49.30,221.60 49.50,222.30 49.70,223.00 49.90,223.70 50.10,224.51 50.30,225.33 50.50,226.14 50.70,226.96 50.90,227.77 51.10,228.59 51.30,229.40 51.50,230.35 51.70,231.29 51.90,232.24 52.10,233.19 52.30,234.13 52.50,235.08 52.70,236.03 52.90,236.92 53.10,237.75 53.30,238.59 53.50,239.42 53.70,240.26 53.90,241.09 54.10,241.93 54.30,242.76 54.50,243.60 54.70,244.12 54.90,244.64 55.10,245.17 55.30,245.69 55.50,246.21 55.70,246.73 55.90,247.26 56.10,247.78 56.30,248.30 56.50,248.55 56.70,248.80 56.90,249.05 57.10,249.30 57.10,249.30" fill="#f6888e" stroke="#e87070" stroke-width="0.4"/>
<polygon points="27.10,249.30 27.10,249.29 27.30,249.28 27.50,249.25 27.70,249.19 27.90,249.06 28.10,248.82 28.30,248.40 28.50,247.67 28.70,246.49 28.90,244.69 29.10,242.11 29.30,238.63 29.50,234.22 29.70,229.02 29.90,223.34 30.10,217.67 30.30,212.62 30.50,208.81 30.70,206.76 30.90,206.68 31.10,208.06 31.30,210.70 31.50,214.35 31.70,218.67 31.90,223.34 32.10,228.01 32.30,232.41 32.50,236.33 32.70,239.67 32.90,242.38 33.10,244.49 33.30,246.07 33.50,247.20 33.70,247.98 33.90,248.49 34.10,248.82 34.30,249.03 34.50,249.15 34.70,249.22 34.90,249.26 35.10,249.28 35.30,249.29 35.30,249.30" fill="#8282f0"/>
<polygon points="27.10,249.30 27.10,249.29 27.30,249.28 27.50,249.25 27.70,249.19 27.90,249.06 28.10,248.82 28.30,248.40 28.50,247.67 28.70,246.49 28.90,244.69 29.10,244.20 29.30,244.18 29.50,244.16 29.70,244.14 29.90,244.12 30.10,244.10 30.30,244.08 30.50,244.06 30.70,244.04 30.90,244.02 31.10,244.00 31.30,243.98 31.50,243.96 31.70,243.94 31.90,243.92 32.10,243.90 32.30,243.93 32.50,243.95 32.70,243.98 32.90,244.01 33.10,244.49 33.30,246.07 33.50,247.20 33.70,247.98 33.90,248.49 34.10,248.82 34.30,249.03 34.50,249.15 34.70,249.22 34.90,249.26 35.10,249.28 35.30,249.29 35.30,249.30" fill="#8a4ecb"/>
<polygon points="23.90,249.30 23.90,249.28 24.10,249.26 24.30,249.21 24.50,249.12 24.70,248.92 24.90,248.56 25.10,247.93 25.30,246.89 25.50,245.25 25.70,242.83 25.90,239.46 26.10,235.04 26.30,229.65 26.50,223.52 26.70,217.10 26.90,211.02 27.10,206.00 27.30,202.67 27.50,201.50 27.70,202.67 27.90,206.00 28.10,211.02 28.30,217.10 28.50,223.52 28.70,229.65 28.90,235.04 29.10,239.46 29.30,242.83 29.50,245.25 29.70,246.89 29.90,247.93 30.10,248.56 30.30,248.92 30.50,249.12 30.70,249.21 30.90,249.26 31.10,249.28 31.10,249.30" fill="#141030" fill-opacity="0.66"/>
</g>
<path d="M16.1,249.3 V198.1 H67.4" fill="none" stroke="#b4b4b4" stroke-width="0.9"/>
<path d="M67.4,198.1 V249.3 H15.650000000000002" fill="none" stroke="#858585" stroke-width="0.9"/>
<clipPath id="c77_198"><rect x="77.5" y="198.1" width="51.3" height="51.2"/></clipPath>
<g clip-path="url(#c77_198)">
<polygon points="87.90,249.30 87.90,249.30 88.10,246.98 88.30,242.35 88.50,237.72 88.70,233.09 88.90,228.46 89.10,223.83 89.30,219.19 89.50,214.56 89.70,209.93 89.90,205.30 90.10,206.03 90.30,206.75 90.50,207.48 90.70,208.21 90.90,208.94 91.10,209.54 91.30,210.01 91.50,210.49 91.70,210.97 91.90,211.44 92.10,211.92 92.30,212.40 92.50,212.87 92.70,213.35 92.90,213.82 93.10,214.30 93.30,215.27 93.50,216.25 93.70,217.22 93.90,218.19 94.10,219.17 94.30,220.14 94.50,221.11 94.70,221.77 94.90,222.11 95.10,222.45 95.30,222.79 95.50,223.14 95.70,223.48 95.90,223.82 96.10,224.16 96.30,224.50 96.50,224.02 96.70,223.55 96.90,223.07 97.10,222.60 97.30,222.12 97.50,221.64 97.70,221.17 97.90,220.69 98.10,220.21 98.30,219.74 98.50,219.36 98.70,219.09 98.90,218.81 99.10,218.53 99.30,218.26 99.50,217.98 99.70,217.70 99.90,217.43 100.10,217.15 100.30,216.88 100.50,216.60 100.70,216.43 100.90,216.25 101.10,216.08 101.30,215.91 101.50,215.73 101.70,215.56 101.90,215.39 102.10,215.59 102.30,216.16 102.50,216.73 102.70,217.30 102.90,217.87 103.10,218.44 103.30,219.01 103.50,219.37 103.70,219.51 103.90,219.66 104.10,219.80 104.30,219.94 104.50,220.09 104.70,220.23 104.90,220.95 105.10,222.25 105.30,223.55 105.50,224.85 105.70,226.15 105.90,227.45 106.10,228.75 106.30,230.01 106.50,231.22 106.70,232.44 106.90,233.65 107.10,234.86 107.30,236.08 107.50,237.29 107.70,238.36 107.90,239.27 108.10,240.19 108.30,241.10 108.50,242.01 108.70,242.93 108.90,243.84 109.10,244.63 109.30,245.30 109.50,245.97 109.70,246.63 109.90,247.30 110.10,247.97 110.30,248.63 110.50,249.30 110.50,249.30" fill="#f6888e" stroke="#e87070" stroke-width="0.4"/>
<polygon points="83.90,249.30 83.90,249.30 84.10,247.40 84.30,245.49 84.50,243.59 84.70,241.68 84.90,239.78 85.10,237.87 85.30,235.97 85.50,234.06 85.70,232.16 85.90,230.25 86.10,228.05 86.30,225.54 86.50,223.03 86.70,220.53 86.90,218.02 87.10,215.51 87.30,213.01 87.50,210.50 87.70,212.26 87.90,214.02 88.10,215.78 88.30,217.54 88.50,219.30 88.70,223.05 88.90,226.80 89.10,230.55 89.30,234.30 89.50,238.05 89.70,241.80 89.90,245.55 90.10,249.30 90.10,249.30" fill="#8282f0"/>
<polygon points="87.90,249.30 87.90,249.30 88.10,246.98 88.30,242.35 88.50,237.72 88.70,233.09 88.90,228.46 89.10,230.55 89.30,234.30 89.50,238.05 89.70,241.80 89.90,245.55 90.10,249.30 90.10,249.30" fill="#8a4ecb"/>
<polygon points="86.70,249.30 86.70,249.28 86.90,249.26 87.10,249.20 87.30,249.07 87.50,248.79 87.70,248.25 87.90,247.28 88.10,245.64 88.30,243.07 88.50,239.35 88.70,234.37 88.90,228.24 89.10,221.40 89.30,214.58 89.50,208.71 89.70,204.72 89.90,203.30 90.10,204.72 90.30,208.71 90.50,214.58 90.70,221.40 90.90,228.24 91.10,234.37 91.30,239.35 91.50,243.07 91.70,245.64 91.90,247.28 92.10,248.25 92.30,248.79 92.50,249.07 92.70,249.20 92.90,249.26 93.10,249.28 93.10,249.30" fill="#141030" fill-opacity="0.66"/>
</g>
<path d="M77.5,249.3 V198.1 H128.8" fill="none" stroke="#b4b4b4" stroke-width="0.9"/>
<path d="M128.8,198.1 V249.3 H77.05" fill="none" stroke="#858585" stroke-width="0.9"/>
<clipPath id="c137_198"><rect x="137.3" y="198.1" width="51.3" height="51.2"/></clipPath>
<g clip-path="url(#c137_198)">
<polygon points="148.30,249.30 148.30,249.30 148.50,248.98 148.70,248.35 148.90,247.72 149.10,247.09 149.30,246.46 149.50,245.83 149.70,245.19 149.90,244.56 150.10,243.93 150.30,243.30 150.50,242.82 150.70,242.34 150.90,241.86 151.10,241.38 151.30,240.90 151.50,240.42 151.70,239.94 151.90,239.46 152.10,238.98 152.30,238.50 152.50,238.02 152.70,237.54 152.90,237.17 153.10,236.91 153.30,236.64 153.50,236.38 153.70,236.12 153.90,235.85 154.10,235.59 154.30,235.33 154.50,235.06 154.70,234.80 154.90,235.12 155.10,235.44 155.30,235.77 155.50,236.09 155.70,236.41 155.90,236.73 156.10,237.06 156.30,237.38 156.50,237.70 156.70,237.80 156.90,237.89 157.10,237.99 157.30,238.08 157.50,238.18 157.70,238.27 157.90,238.37 158.10,238.47 158.30,238.56 158.50,238.66 158.70,238.75 158.90,238.84 159.10,238.93 159.30,239.02 159.50,239.11 159.70,239.20 159.90,239.28 160.10,239.37 160.30,239.46 160.50,239.55 160.70,239.64 160.90,239.72 161.10,239.81 161.30,239.90 161.50,239.80 161.70,239.70 161.90,239.60 162.10,239.50 162.30,239.40 162.50,239.30 162.70,239.20 162.90,239.10 163.10,239.00 163.30,238.90 163.50,238.80 163.70,238.70 163.90,238.60 164.10,238.50 164.30,238.40 164.50,238.29 164.70,238.19 164.90,238.08 165.10,237.97 165.30,237.87 165.50,237.76 165.70,237.65 165.90,237.30 166.10,236.69 166.30,236.08 166.50,235.47 166.70,234.87 166.90,234.26 167.10,233.65 167.30,233.05 167.50,232.44 167.70,231.83 167.90,231.23 168.10,230.62 168.30,230.01 168.50,229.40 168.70,228.49 168.90,227.27 169.10,226.05 169.30,224.83 169.50,223.61 169.70,222.40 169.90,221.18 170.10,219.96 170.30,218.74 170.50,217.52 170.70,216.30 170.90,215.30 171.10,214.30 171.30,213.30 171.50,212.30 171.70,211.30 171.90,210.30 172.10,209.30 172.30,208.30 172.50,207.62 172.70,207.25 172.90,206.88 173.10,206.51 173.30,206.14 173.50,205.77 173.70,205.41 173.90,205.04 174.10,204.67 174.30,204.30 174.50,205.20 174.70,206.10 174.90,207.00 175.10,207.90 175.30,208.80 175.50,209.70 175.70,210.60 175.90,212.84 176.10,215.09 176.30,217.33 176.50,219.57 176.70,221.81 176.90,224.06 177.10,226.30 177.30,228.33 177.50,230.36 177.70,232.39 177.90,234.41 178.10,236.44 178.30,238.47 178.50,240.50 178.70,241.45 178.90,242.39 179.10,243.34 179.30,244.29 179.50,245.23 179.70,246.18 179.90,247.13 180.10,247.81 180.30,248.24 180.50,248.66 180.70,249.09 180.90,249.30 180.90,249.30" fill="#f6888e" stroke="#e87070" stroke-width="0.4"/>
<polygon points="138.30,249.30 138.30,249.30 138.50,248.45 138.70,247.59 138.90,246.74 139.10,245.88 139.30,245.03 139.50,244.17 139.70,243.32 139.90,242.46 140.10,241.61 140.30,240.75 140.50,239.90 140.70,238.57 140.90,237.25 141.10,235.92 141.30,234.59 141.50,233.26 141.70,231.94 141.90,230.61 142.10,229.28 142.30,227.95 142.50,226.63 142.70,225.30 142.90,224.09 143.10,222.88 143.30,221.67 143.50,220.46 143.70,219.25 143.90,218.04 144.10,216.83 144.30,215.62 144.50,214.41 144.70,214.02 144.90,214.46 145.10,214.90 145.30,215.34 145.50,215.78 145.70,216.80 145.90,218.40 146.10,220.00 146.30,221.60 146.50,223.20 146.70,223.76 146.90,223.27 147.10,222.78 147.30,222.29 147.50,221.80 147.70,222.34 147.90,222.88 148.10,223.42 148.30,223.95 148.50,224.49 148.70,225.03 148.90,225.96 149.10,227.29 149.30,228.62 149.50,229.95 149.70,231.27 149.90,232.60 150.10,233.96 150.30,235.32 150.50,236.68 150.70,238.04 150.90,239.40 151.10,240.76 151.30,242.12 151.50,243.16 151.70,243.89 151.90,244.62 152.10,245.35 152.30,246.08 152.50,246.81 152.70,247.54 152.90,248.04 153.10,248.32 153.30,248.60 153.50,248.88 153.70,249.16 153.90,249.30 153.90,249.30" fill="#8282f0"/>
<polygon points="148.30,249.30 148.30,249.30 148.50,248.98 148.70,248.35 148.90,247.72 149.10,247.09 149.30,246.46 149.50,245.83 149.70,245.19 149.90,244.56 150.10,243.93 150.30,243.30 150.50,242.82 150.70,242.34 150.90,241.86 151.10,241.38 151.30,242.12 151.50,243.16 151.70,243.89 151.90,244.62 152.10,245.35 152.30,246.08 152.50,246.81 152.70,247.54 152.90,248.04 153.10,248.32 153.30,248.60 153.50,248.88 153.70,249.16 153.90,249.30 153.90,249.30" fill="#8a4ecb"/>
<polygon points="145.30,249.30 145.30,249.28 145.50,249.26 145.70,249.22 145.90,249.12 146.10,248.93 146.30,248.58 146.50,247.96 146.70,246.93 146.90,245.32 147.10,242.94 147.30,239.62 147.50,235.28 147.70,229.98 147.90,223.95 148.10,217.64 148.30,211.67 148.50,206.72 148.70,203.45 148.90,202.30 149.10,203.23 149.30,205.91 149.50,210.04 149.70,215.17 149.90,220.79 150.10,226.42 150.30,231.66 150.50,236.23 150.70,240.00 150.90,242.94 151.10,245.12 151.30,246.66 151.50,247.70 151.70,248.37 151.90,248.78 152.10,249.02 152.30,249.15 152.50,249.23 152.70,249.27 152.90,249.28 152.90,249.30" fill="#141030" fill-opacity="0.66"/>
</g>
<path d="M137.3,249.3 V198.1 H188.60000000000002" fill="none" stroke="#b4b4b4" stroke-width="0.9"/>
<path d="M188.60000000000002,198.1 V249.3 H136.85000000000002" fill="none" stroke="#858585" stroke-width="0.9"/>
<clipPath id="c16_259"><rect x="16.1" y="259.8" width="51.3" height="51.4"/></clipPath>
<g clip-path="url(#c16_259)">
<polygon points="28.10,311.20 28.10,311.20 28.30,307.20 28.50,303.20 28.70,299.20 28.90,295.20 29.10,291.20 29.30,287.20 29.50,283.20 29.70,279.20 29.90,275.20 30.10,271.20 30.30,270.27 30.50,269.34 30.70,268.41 30.90,267.49 31.10,266.56 31.30,265.63 31.50,264.70 31.70,265.60 31.90,266.50 32.10,267.40 32.30,268.30 32.50,269.20 32.70,270.20 32.90,271.20 33.10,272.20 33.30,273.20 33.50,274.20 33.70,275.20 33.90,276.20 34.10,278.49 34.30,280.77 34.50,283.06 34.70,285.34 34.90,287.63 35.10,289.91 35.30,292.20 35.50,293.63 35.70,295.06 35.90,296.49 36.10,297.91 36.30,299.34 36.50,300.77 36.70,302.20 36.90,302.84 37.10,303.47 37.30,304.11 37.50,304.75 37.70,305.38 37.90,306.02 38.10,306.65 38.30,307.29 38.50,307.93 38.70,308.56 38.90,309.20 39.10,309.53 39.30,309.87 39.50,310.20 39.70,310.53 39.90,310.87 40.10,311.20 40.10,311.20" fill="#f6888e" stroke="#e87070" stroke-width="0.4"/>
<polygon points="23.90,311.20 23.90,311.19 24.10,311.17 24.30,311.14 24.50,311.07 24.70,310.95 24.90,310.73 25.10,310.37 25.30,309.77 25.50,308.84 25.70,307.47 25.90,305.52 26.10,302.89 26.30,299.52 26.50,295.44 26.70,290.76 26.90,285.73 27.10,280.70 27.30,276.12 27.50,272.43 27.70,270.03 27.90,269.20 28.10,269.89 28.30,271.89 28.50,275.01 28.70,278.96 28.90,283.42 29.10,288.04 29.30,292.51 29.50,296.62 29.70,300.19 29.90,303.16 30.10,305.52 30.30,307.31 30.50,308.63 30.70,309.55 30.90,310.18 31.10,310.59 31.30,310.85 31.50,311.00 31.70,311.09 31.90,311.14 32.10,311.17 32.30,311.19 32.30,311.20" fill="#8282f0"/>
<polygon points="28.10,311.20 28.10,311.20 28.30,307.20 28.50,303.20 28.70,299.20 28.90,295.20 29.10,291.20 29.30,292.51 29.50,296.62 29.70,300.19 29.90,303.16 30.10,305.52 30.30,307.31 30.50,308.63 30.70,309.55 30.90,310.18 31.10,310.59 31.30,310.85 31.50,311.00 31.70,311.09 31.90,311.14 32.10,311.17 32.30,311.19 32.30,311.20" fill="#8a4ecb"/>
<polygon points="24.70,311.20 24.70,311.18 24.90,311.16 25.10,311.10 25.30,310.96 25.50,310.68 25.70,310.12 25.90,309.13 26.10,307.44 26.30,304.81 26.50,300.99 26.70,295.88 26.90,289.59 27.10,282.57 27.30,275.57 27.50,269.55 27.70,265.45 27.90,264.00 28.10,265.15 28.30,268.44 28.50,273.41 28.70,279.40 28.90,285.74 29.10,291.80 29.30,297.12 29.50,301.48 29.70,304.81 29.90,307.20 30.10,308.82 30.30,309.85 30.50,310.47 30.70,310.83 30.90,311.02 31.10,311.12 31.30,311.16 31.50,311.18 31.50,311.20" fill="#141030" fill-opacity="0.66"/>
</g>
<path d="M16.1,311.2 V259.8 H67.4" fill="none" stroke="#b4b4b4" stroke-width="0.9"/>
<path d="M67.4,259.8 V311.2 H15.650000000000002" fill="none" stroke="#858585" stroke-width="0.9"/>
<clipPath id="c77_259"><rect x="77.5" y="259.8" width="51.3" height="51.4"/></clipPath>
<g clip-path="url(#c77_259)">
<polygon points="90.50,311.20 90.50,311.20 90.70,310.80 90.90,310.40 91.10,310.00 91.30,309.60 91.50,309.20 91.70,308.80 91.90,308.40 92.10,308.00 92.30,307.60 92.50,307.20 92.70,307.20 92.90,307.20 93.10,307.20 93.30,307.20 93.50,307.20 93.70,307.20 93.90,307.20 94.10,307.20 94.30,307.20 94.50,307.20 94.70,307.20 94.90,307.20 95.10,307.20 95.30,307.20 95.50,307.20 95.70,307.20 95.90,307.20 96.10,307.20 96.30,307.20 96.50,307.20 96.70,307.20 96.90,307.20 97.10,307.20 97.30,307.20 97.50,307.20 97.70,307.20 97.90,307.20 98.10,307.07 98.30,306.80 98.50,306.53 98.70,306.27 98.90,306.00 99.10,305.73 99.30,305.47 99.50,305.20 99.70,304.44 99.90,303.69 100.10,302.93 100.30,302.18 100.50,301.42 100.70,300.67 100.90,299.91 101.10,299.16 101.30,298.40 101.50,296.80 101.70,295.20 101.90,293.60 102.10,292.00 102.30,290.40 102.50,288.80 102.70,287.20 102.90,285.05 103.10,282.89 103.30,280.74 103.50,278.58 103.70,276.43 103.90,274.28 104.10,272.81 104.30,272.02 104.50,271.23 104.70,270.44 104.90,269.65 105.10,268.86 105.30,268.08 105.50,267.29 105.70,266.50 105.90,268.41 106.10,270.33 106.30,272.24 106.50,274.16 106.70,276.07 106.90,277.99 107.10,279.90 107.30,282.14 107.50,284.39 107.70,286.63 107.90,288.87 108.10,291.11 108.30,293.36 108.50,295.60 108.70,297.21 108.90,298.83 109.10,300.44 109.30,302.06 109.50,303.67 109.70,305.29 109.90,306.90 110.10,307.51 110.30,308.13 110.50,308.74 110.70,309.36 110.90,309.97 111.10,310.59 111.30,311.20 111.30,311.20" fill="#f6888e" stroke="#e87070" stroke-width="0.4"/>
<polygon points="85.90,311.20 85.90,311.18 86.10,311.17 86.30,311.14 86.50,311.10 86.70,311.02 86.90,310.89 87.10,310.68 87.30,310.35 87.50,309.86 87.70,309.14 87.90,308.12 88.10,306.72 88.30,304.87 88.50,302.48 88.70,299.53 88.90,296.01 89.10,291.96 89.30,287.50 89.50,282.81 89.70,278.13 89.90,273.73 90.10,269.90 90.30,266.93 90.50,265.05 90.70,264.40 90.90,264.63 91.10,265.33 91.30,266.46 91.50,268.00 91.70,269.90 91.90,272.11 92.10,274.57 92.30,277.22 92.50,279.99 92.70,282.81 92.90,285.64 93.10,288.42 93.30,291.10 93.50,293.64 93.70,296.01 93.90,298.19 94.10,300.17 94.30,301.94 94.50,303.50 94.70,304.87 94.90,306.04 95.10,307.04 95.30,307.88 95.50,308.57 95.70,309.14 95.90,309.61 96.10,309.98 96.30,310.27 96.50,310.50 96.70,310.68 96.90,310.82 97.10,310.92 97.30,311.00 97.50,311.06 97.70,311.10 97.90,311.13 98.10,311.15 98.30,311.17 98.50,311.18 98.70,311.18 98.70,311.20" fill="#8282f0"/>
<polygon points="90.50,311.20 90.50,311.20 90.70,310.80 90.90,310.40 91.10,310.00 91.30,309.60 91.50,309.20 91.70,308.80 91.90,308.40 92.10,308.00 92.30,307.60 92.50,307.20 92.70,307.20 92.90,307.20 93.10,307.20 93.30,307.20 93.50,307.20 93.70,307.20 93.90,307.20 94.10,307.20 94.30,307.20 94.50,307.20 94.70,307.20 94.90,307.20 95.10,307.20 95.30,307.88 95.50,308.57 95.70,309.14 95.90,309.61 96.10,309.98 96.30,310.27 96.50,310.50 96.70,310.68 96.90,310.82 97.10,310.92 97.30,311.00 97.50,311.06 97.70,311.10 97.90,311.13 98.10,311.15 98.30,311.17 98.50,311.18 98.70,311.18 98.70,311.20" fill="#8a4ecb"/>
<polygon points="83.70,311.20 83.70,311.18 83.90,311.17 84.10,311.14 84.30,311.10 84.50,311.01 84.70,310.88 84.90,310.67 85.10,310.33 85.30,309.83 85.50,309.09 85.70,308.05 85.90,306.61 86.10,304.70 86.30,302.26 86.50,299.23 86.70,295.62 86.90,291.47 87.10,286.90 87.30,282.09 87.50,277.28 87.70,272.76 87.90,268.84 88.10,265.79 88.30,263.86 88.50,263.20 88.70,263.35 88.90,263.81 89.10,264.56 89.30,265.60 89.50,266.89 89.70,268.42 89.90,270.17 90.10,272.09 90.30,274.16 90.50,276.34 90.70,278.61 90.90,280.92 91.10,283.25 91.30,285.56 91.50,287.84 91.70,290.04 91.90,292.16 92.10,294.18 92.30,296.08 92.50,297.85 92.70,299.50 92.90,301.00 93.10,302.37 93.30,303.60 93.50,304.70 93.70,305.68 93.90,306.54 94.10,307.29 94.30,307.95 94.50,308.51 94.70,308.98 94.90,309.39 95.10,309.73 95.30,310.01 95.50,310.25 95.70,310.44 95.90,310.60 96.10,310.73 96.30,310.83 96.50,310.91 96.70,310.98 96.90,311.03 97.10,311.07 97.30,311.10 97.50,311.13 97.70,311.14 97.90,311.16 98.10,311.17 98.30,311.18 98.50,311.18 98.50,311.20" fill="#141030" fill-opacity="0.66"/>
</g>
<path d="M77.5,311.2 V259.8 H128.8" fill="none" stroke="#b4b4b4" stroke-width="0.9"/>
<path d="M128.8,259.8 V311.2 H77.05" fill="none" stroke="#858585" stroke-width="0.9"/>
<clipPath id="c137_259"><rect x="137.3" y="259.8" width="51.3" height="51.4"/></clipPath>
<g clip-path="url(#c137_259)">
<polygon points="144.90,311.20 144.90,311.18 145.10,311.17 145.30,311.16 145.50,311.15 145.70,311.13 145.90,311.11 146.10,311.08 146.30,311.04 146.50,310.99 146.70,310.92 146.90,310.84 147.10,310.73 147.30,310.60 147.50,310.44 147.70,310.24 147.90,309.99 148.10,309.68 148.30,309.32 148.50,308.89 148.70,308.37 148.90,307.76 149.10,307.05 149.30,306.23 149.50,305.29 149.70,304.22 149.90,303.01 150.10,301.66 150.30,300.16 150.50,298.52 150.70,296.73 150.90,294.80 151.10,292.74 151.30,290.57 151.50,288.31 151.70,285.97 151.90,283.59 152.10,281.19 152.30,278.81 152.50,276.48 152.70,274.24 152.90,272.13 153.10,270.18 153.30,268.44 153.50,266.93 153.70,265.68 153.90,264.72 154.10,264.07 154.30,263.74 154.50,263.73 154.70,263.95 154.90,264.40 155.10,265.06 155.30,265.93 155.50,267.00 155.70,268.24 155.90,269.65 156.10,271.20 156.30,272.87 156.50,274.66 156.70,276.52 156.90,278.44 157.10,280.41 157.30,282.39 157.50,284.37 157.70,286.34 157.90,288.27 158.10,290.15 158.30,291.97 158.50,293.72 158.70,295.38 158.90,296.95 159.10,298.43 159.30,299.80 159.50,301.08 159.70,302.26 159.90,303.34 160.10,304.32 160.30,305.20 160.50,306.00 160.70,306.71 160.90,307.35 161.10,307.91 161.30,308.40 161.50,308.83 161.70,309.20 161.90,309.52 162.10,309.80 162.30,310.04 162.50,310.24 162.70,310.41 162.90,310.55 163.10,310.67 163.30,310.77 163.50,310.85 163.70,310.92 163.90,310.98 164.10,311.02 164.30,311.06 164.50,311.09 164.70,311.11 164.90,311.13 165.10,311.15 165.30,311.16 165.50,311.17 165.70,311.18 165.90,311.18 165.90,311.20" fill="#f6888e" stroke="#e87070" stroke-width="0.4"/>
<polygon points="145.10,311.20 145.10,311.18 145.30,311.17 145.50,311.16 145.70,311.15 145.90,311.13 146.10,311.10 146.30,311.07 146.50,311.03 146.70,310.97 146.90,310.89 147.10,310.80 147.30,310.68 147.50,310.52 147.70,310.33 147.90,310.10 148.10,309.80 148.30,309.45 148.50,309.02 148.70,308.51 148.90,307.90 149.10,307.18 149.30,306.34 149.50,305.37 149.70,304.27 149.90,303.01 150.10,301.60 150.30,300.04 150.50,298.31 150.70,296.43 150.90,294.41 151.10,292.25 151.30,289.97 151.50,287.60 151.70,285.17 151.90,282.69 152.10,280.22 152.30,277.79 152.50,275.43 152.70,273.20 152.90,271.14 153.10,269.28 153.30,267.66 153.50,266.33 153.70,265.30 153.90,264.60 154.10,264.24 154.30,264.24 154.50,264.57 154.70,265.21 154.90,266.16 155.10,267.39 155.30,268.89 155.50,270.61 155.70,272.54 155.90,274.63 156.10,276.84 156.30,279.15 156.50,281.51 156.70,283.88 156.90,286.24 157.10,288.55 157.30,290.79 157.50,292.94 157.70,294.97 157.90,296.88 158.10,298.65 158.30,300.28 158.50,301.76 158.70,303.10 158.90,304.29 159.10,305.35 159.30,306.28 159.50,307.10 159.70,307.80 159.90,308.40 160.10,308.91 160.30,309.34 160.50,309.70 160.70,310.00 160.90,310.25 161.10,310.45 161.30,310.61 161.50,310.74 161.70,310.84 161.90,310.93 162.10,310.99 162.30,311.04 162.50,311.08 162.70,311.11 162.90,311.13 163.10,311.15 163.30,311.16 163.50,311.17 163.70,311.18 163.70,311.20" fill="#8282f0"/>
<polygon points="145.10,311.20 145.10,311.18 145.30,311.17 145.50,311.16 145.70,311.15 145.90,311.13 146.10,311.10 146.30,311.07 146.50,311.03 146.70,310.97 146.90,310.89 147.10,310.80 147.30,310.68 147.50,310.52 147.70,310.33 147.90,310.10 148.10,309.80 148.30,309.45 148.50,309.02 148.70,308.51 148.90,307.90 149.10,307.18 149.30,306.34 149.50,305.37 149.70,304.27 149.90,303.01 150.10,301.66 150.30,300.16 150.50,298.52 150.70,296.73 150.90,294.80 151.10,292.74 151.30,290.57 151.50,288.31 151.70,285.97 151.90,283.59 152.10,281.19 152.30,278.81 152.50,276.48 152.70,274.24 152.90,272.13 153.10,270.18 153.30,268.44 153.50,266.93 153.70,265.68 153.90,264.72 154.10,264.24 154.30,264.24 154.50,264.57 154.70,265.21 154.90,266.16 155.10,267.39 155.30,268.89 155.50,270.61 155.70,272.54 155.90,274.63 156.10,276.84 156.30,279.15 156.50,281.51 156.70,283.88 156.90,286.24 157.10,288.55 157.30,290.79 157.50,292.94 157.70,294.97 157.90,296.88 158.10,298.65 158.30,300.28 158.50,301.76 158.70,303.10 158.90,304.29 159.10,305.35 159.30,306.28 159.50,307.10 159.70,307.80 159.90,308.40 160.10,308.91 160.30,309.34 160.50,309.70 160.70,310.00 160.90,310.25 161.10,310.45 161.30,310.61 161.50,310.74 161.70,310.84 161.90,310.93 162.10,310.99 162.30,311.04 162.50,311.08 162.70,311.11 162.90,311.13 163.10,311.15 163.30,311.16 163.50,311.17 163.70,311.18 163.70,311.20" fill="#8a4ecb"/>
<polygon points="147.70,311.20 147.70,311.19 147.90,311.16 148.10,310.96 148.30,310.12 148.50,307.42 148.70,300.93 148.90,289.45 149.10,275.35 149.30,265.16 149.50,265.16 149.70,275.35 149.90,289.45 150.10,300.93 150.30,307.42 150.50,310.12 150.70,310.96 150.90,311.16 151.10,311.19 151.10,311.20" fill="#141030" fill-opacity="0.66"/>
</g>
<path d="M137.3,311.2 V259.8 H188.60000000000002" fill="none" stroke="#b4b4b4" stroke-width="0.9"/>
<path d="M188.60000000000002,259.8 V311.2 H136.85000000000002" fill="none" stroke="#858585" stroke-width="0.9"/>
<clipPath id="c16_323"><rect x="16.1" y="323.0" width="51.3" height="51.3"/></clipPath>
<g clip-path="url(#c16_323)">
<polygon points="23.50,374.30 23.50,374.28 23.70,374.27 23.90,374.25 24.10,374.20 24.30,374.13 24.50,374.00 24.70,373.80 24.90,373.49 25.10,373.01 25.30,372.32 25.50,371.34 25.70,370.00 25.90,368.21 26.10,365.92 26.30,363.08 26.50,359.69 26.70,355.80 26.90,351.51 27.10,347.01 27.30,342.50 27.50,338.27 27.70,334.59 27.90,331.73 28.10,329.92 28.30,329.30 28.50,329.61 28.70,330.53 28.90,332.02 29.10,334.02 29.30,336.45 29.50,339.22 29.70,342.24 29.90,345.40 30.10,348.61 30.30,351.78 30.50,354.82 30.70,357.69 30.90,360.33 31.10,362.71 31.30,364.82 31.50,366.65 31.70,368.21 31.90,369.52 32.10,370.60 32.30,371.48 32.50,372.17 32.70,372.72 32.90,373.14 33.10,373.46 33.30,373.70 33.50,373.88 33.70,374.01 33.90,374.10 34.10,374.17 34.30,374.21 34.50,374.24 34.70,374.26 34.90,374.28 35.10,374.28 35.10,374.30" fill="#f6888e" stroke="#e87070" stroke-width="0.4"/>
<polygon points="23.70,374.30 23.70,374.29 23.90,374.28 24.10,374.26 24.30,374.22 24.50,374.14 24.70,374.02 24.90,373.80 25.10,373.45 25.30,372.91 25.50,372.09 25.70,370.90 25.90,369.24 26.10,367.03 26.30,364.18 26.50,360.67 26.70,356.54 26.90,351.92 27.10,347.01 27.30,342.10 27.50,337.55 27.70,333.72 27.90,330.94 28.10,329.49 28.30,329.41 28.50,330.32 28.70,332.08 28.90,334.59 29.10,337.70 29.30,341.25 29.50,345.06 29.70,348.95 29.90,352.77 30.10,356.38 30.30,359.69 30.50,362.63 30.70,365.16 30.90,367.29 31.10,369.03 31.30,370.42 31.50,371.50 31.70,372.32 31.90,372.93 32.10,373.37 32.30,373.68 32.50,373.90 32.70,374.04 32.90,374.14 33.10,374.20 33.30,374.24 33.50,374.27 33.70,374.28 33.90,374.29 33.90,374.30" fill="#8282f0"/>
<polygon points="23.70,374.30 23.70,374.29 23.90,374.28 24.10,374.26 24.30,374.22 24.50,374.14 24.70,374.02 24.90,373.80 25.10,373.45 25.30,372.91 25.50,372.09 25.70,370.90 25.90,369.24 26.10,367.03 26.30,364.18 26.50,360.67 26.70,356.54 26.90,351.92 27.10,347.01 27.30,342.50 27.50,338.27 27.70,334.59 27.90,331.73 28.10,329.92 28.30,329.41 28.50,330.32 28.70,332.08 28.90,334.59 29.10,337.70 29.30,341.25 29.50,345.06 29.70,348.95 29.90,352.77 30.10,356.38 30.30,359.69 30.50,362.63 30.70,365.16 30.90,367.29 31.10,369.03 31.30,370.42 31.50,371.50 31.70,372.32 31.90,372.93 32.10,373.37 32.30,373.68 32.50,373.90 32.70,374.04 32.90,374.14 33.10,374.20 33.30,374.24 33.50,374.27 33.70,374.28 33.90,374.29 33.90,374.30" fill="#8a4ecb"/>
<polygon points="24.50,374.30 24.50,374.28 24.70,374.26 24.90,374.22 25.10,374.12 25.30,373.93 25.50,373.58 25.70,372.96 25.90,371.93 26.10,370.32 26.30,367.94 26.50,364.62 26.70,360.28 26.90,354.98 27.10,348.95 27.30,342.64 27.50,336.67 27.70,331.72 27.90,328.45 28.10,327.30 28.30,328.07 28.50,330.31 28.70,333.80 28.90,338.22 29.10,343.21 29.30,348.38 29.50,353.39 29.70,357.98 29.90,361.98 30.10,365.30 30.30,367.94 30.50,369.95 30.70,371.42 30.90,372.46 31.10,373.16 31.30,373.62 31.50,373.90 31.70,374.08 31.90,374.18 32.10,374.24 32.30,374.27 32.50,374.28 32.50,374.30" fill="#141030" fill-opacity="0.66"/>
</g>
<path d="M16.1,374.3 V323.0 H67.4" fill="none" stroke="#b4b4b4" stroke-width="0.9"/>
<path d="M67.4,323.0 V374.3 H15.650000000000002" fill="none" stroke="#858585" stroke-width="0.9"/>
<clipPath id="c77_323"><rect x="77.5" y="323.0" width="51.3" height="51.3"/></clipPath>
<g clip-path="url(#c77_323)">
<polygon points="82.50,374.30 82.50,374.30 82.70,373.75 82.90,373.21 83.10,372.66 83.30,372.12 83.50,371.57 83.70,370.45 83.90,368.76 84.10,367.07 84.30,365.38 84.50,363.69 84.70,362.00 84.90,359.41 85.10,356.83 85.30,354.24 85.50,351.66 85.70,349.07 85.90,346.49 86.10,343.90 86.30,341.58 86.50,339.26 86.70,336.94 86.90,334.62 87.10,332.30 87.30,330.38 87.50,328.46 87.70,327.50 87.90,327.50 88.10,327.50 88.30,327.50 88.50,327.50 88.70,327.50 88.90,327.50 89.10,327.50 89.30,327.50 89.50,327.50 89.70,327.50 89.90,327.50 90.10,327.50 90.30,327.50 90.50,327.50 90.70,327.50 90.90,330.47 91.10,336.41 91.30,342.36 91.50,348.30 91.70,350.79 91.90,353.28 92.10,355.77 92.30,358.26 92.50,360.75 92.70,362.73 92.90,364.18 93.10,365.62 93.30,367.07 93.50,368.53 93.70,369.98 93.90,370.94 94.10,371.42 94.30,371.90 94.50,372.38 94.70,372.86 94.90,373.34 95.10,373.82 95.30,374.30 95.30,374.30" fill="#f6888e" stroke="#e87070" stroke-width="0.4"/>
<polygon points="82.50,374.30 82.50,374.30 82.70,373.75 82.90,373.21 83.10,372.66 83.30,372.12 83.50,371.57 83.70,370.45 83.90,368.76 84.10,367.07 84.30,365.38 84.50,363.69 84.70,362.00 84.90,359.41 85.10,356.83 85.30,354.24 85.50,351.66 85.70,349.07 85.90,346.49 86.10,343.90 86.30,341.58 86.50,339.26 86.70,336.94 86.90,334.62 87.10,332.30 87.30,330.38 87.50,328.46 87.70,327.50 87.90,327.50 88.10,327.50 88.30,327.50 88.50,327.50 88.70,327.50 88.90,327.50 89.10,327.50 89.30,327.50 89.50,327.50 89.70,327.50 89.90,327.50 90.10,327.50 90.30,327.50 90.50,327.50 90.70,333.44 90.90,339.39 91.10,345.33 91.30,349.67 91.50,352.41 91.70,355.15 91.90,357.89 92.10,360.63 92.30,362.73 92.50,364.18 92.70,365.62 92.90,367.07 93.10,368.53 93.30,369.98 93.50,370.96 93.70,371.47 93.90,371.99 94.10,372.50 94.30,373.01 94.50,373.53 94.70,374.04 94.90,374.30 94.90,374.30" fill="#8282f0"/>
<polygon points="82.50,374.30 82.50,374.30 82.70,373.75 82.90,373.21 83.10,372.66 83.30,372.12 83.50,371.57 83.70,370.45 83.90,368.76 84.10,367.07 84.30,365.38 84.50,363.69 84.70,362.00 84.90,359.41 85.10,356.83 85.30,354.24 85.50,351.66 85.70,349.07 85.90,346.49 86.10,343.90 86.30,341.58 86.50,339.26 86.70,336.94 86.90,334.62 87.10,332.30 87.30,330.38 87.50,328.46 87.70,327.50 87.90,327.50 88.10,327.50 88.30,327.50 88.50,327.50 88.70,327.50 88.90,327.50 89.10,327.50 89.30,327.50 89.50,327.50 89.70,327.50 89.90,327.50 90.10,327.50 90.30,327.50 90.50,327.50 90.70,333.44 90.90,339.39 91.10,345.33 91.30,349.67 91.50,352.41 91.70,355.15 91.90,357.89 92.10,360.63 92.30,362.73 92.50,364.18 92.70,365.62 92.90,367.07 93.10,368.53 93.30,369.98 93.50,370.96 93.70,371.47 93.90,371.99 94.10,372.50 94.30,373.01 94.50,373.53 94.70,374.04 94.90,374.30 94.90,374.30" fill="#8a4ecb"/>
<polygon points="88.50,374.30 88.50,374.29 88.70,374.24 88.90,374.07 89.10,373.55 89.30,372.17 89.50,369.16 89.70,363.73 89.90,355.80 90.10,346.71 90.30,339.22 90.50,336.30 90.70,338.35 90.90,343.87 91.10,351.25 91.30,358.68 91.50,364.82 91.70,369.16 91.90,371.80 92.10,373.21 92.30,373.88 92.50,374.15 92.70,374.25 92.90,374.29 92.90,374.30" fill="#141030" fill-opacity="0.66"/>
</g>
<path d="M77.5,374.3 V323.0 H128.8" fill="none" stroke="#b4b4b4" stroke-width="0.9"/>
<path d="M128.8,323.0 V374.3 H77.05" fill="none" stroke="#858585" stroke-width="0.9"/>
<clipPath id="c137_323"><rect x="137.3" y="323.0" width="51.3" height="51.3"/></clipPath>
<g clip-path="url(#c137_323)">
<polygon points="144.90,374.30 144.90,374.28 145.10,374.27 145.30,374.25 145.50,374.22 145.70,374.17 145.90,374.09 146.10,373.96 146.30,373.78 146.50,373.51 146.70,373.12 146.90,372.58 147.10,371.84 147.30,370.85 147.50,369.57 147.70,367.94 147.90,365.92 148.10,363.49 148.30,360.63 148.50,357.36 148.70,353.73 148.90,349.84 149.10,345.79 149.30,341.75 149.50,337.88 149.70,334.38 149.90,331.42 150.10,329.18 150.30,327.78 150.50,327.30 150.70,327.48 150.90,328.01 151.10,328.87 151.30,330.06 151.50,331.54 151.70,333.28 151.90,335.25 152.10,337.40 152.30,339.70 152.50,342.10 152.70,344.55 152.90,347.03 153.10,349.49 153.30,351.90 153.50,354.22 153.70,356.44 153.90,358.54 154.10,360.49 154.30,362.30 154.50,363.94 154.70,365.43 154.90,366.76 155.10,367.94 155.30,368.97 155.50,369.88 155.70,370.65 155.90,371.31 156.10,371.87 156.30,372.34 156.50,372.74 156.70,373.06 156.90,373.32 157.10,373.53 157.30,373.71 157.50,373.84 157.70,373.95 157.90,374.03 158.10,374.10 158.30,374.15 158.50,374.19 158.70,374.22 158.90,374.24 159.10,374.26 159.30,374.27 159.50,374.28 159.70,374.28 159.70,374.30" fill="#f6888e" stroke="#e87070" stroke-width="0.4"/>
<polygon points="145.10,374.30 145.10,374.28 145.30,374.27 145.50,374.24 145.70,374.20 145.90,374.12 146.10,373.99 146.30,373.79 146.50,373.47 146.70,372.99 146.90,372.28 147.10,371.28 147.30,369.90 147.50,368.07 147.70,365.73 147.90,362.83 148.10,359.37 148.30,355.39 148.50,351.01 148.70,346.40 148.90,341.79 149.10,337.47 149.30,333.71 149.50,330.79 149.70,328.93 149.90,328.30 150.10,328.58 150.30,329.42 150.50,330.79 150.70,332.63 150.90,334.88 151.10,337.47 151.30,340.31 151.50,343.31 151.70,346.40 151.90,349.49 152.10,352.50 152.30,355.39 152.50,358.09 152.70,360.58 152.90,362.83 153.10,364.83 153.30,366.57 153.50,368.07 153.70,369.35 153.90,370.41 154.10,371.28 154.30,371.98 154.50,372.54 154.70,372.99 154.90,373.33 155.10,373.59 155.30,373.79 155.50,373.94 155.70,374.04 155.90,374.12 156.10,374.18 156.30,374.22 156.50,374.24 156.70,374.26 156.90,374.28 157.10,374.28 157.10,374.30" fill="#8282f0"/>
<polygon points="145.10,374.30 145.10,374.28 145.30,374.27 145.50,374.24 145.70,374.20 145.90,374.12 146.10,373.99 146.30,373.79 146.50,373.51 146.70,373.12 146.90,372.58 147.10,371.84 147.30,370.85 147.50,369.57 147.70,367.94 147.90,365.92 148.10,363.49 148.30,360.63 148.50,357.36 148.70,353.73 148.90,349.84 149.10,345.79 149.30,341.75 149.50,337.88 149.70,334.38 149.90,331.42 150.10,329.18 150.30,329.42 150.50,330.79 150.70,332.63 150.90,334.88 151.10,337.47 151.30,340.31 151.50,343.31 151.70,346.40 151.90,349.49 152.10,352.50 152.30,355.39 152.50,358.09 152.70,360.58 152.90,362.83 153.10,364.83 153.30,366.57 153.50,368.07 153.70,369.35 153.90,370.41 154.10,371.28 154.30,371.98 154.50,372.54 154.70,372.99 154.90,373.33 155.10,373.59 155.30,373.79 155.50,373.94 155.70,374.04 155.90,374.12 156.10,374.18 156.30,374.22 156.50,374.24 156.70,374.26 156.90,374.28 157.10,374.28 157.10,374.30" fill="#8a4ecb"/>
<polygon points="146.30,374.30 146.30,374.28 146.50,374.26 146.70,374.21 146.90,374.12 147.10,373.92 147.30,373.57 147.50,372.94 147.70,371.91 147.90,370.28 148.10,367.87 148.30,364.52 148.50,360.13 148.70,354.77 148.90,348.68 149.10,342.30 149.30,336.26 149.50,331.27 149.70,327.96 149.90,326.80 150.10,327.46 150.30,329.37 150.50,332.38 150.70,336.26 150.90,340.73 151.10,345.49 151.30,350.25 151.50,354.77 151.70,358.88 151.90,362.46 152.10,365.45 152.30,367.87 152.50,369.76 152.70,371.18 152.90,372.21 153.10,372.94 153.30,373.44 153.50,373.77 153.70,373.98 153.90,374.12 154.10,374.20 154.30,374.24 154.50,374.27 154.70,374.28 154.70,374.30" fill="#141030" fill-opacity="0.66"/>
</g>
<path d="M137.3,374.3 V323.0 H188.60000000000002" fill="none" stroke="#b4b4b4" stroke-width="0.9"/>
<path d="M188.60000000000002,323.0 V374.3 H136.85000000000002" fill="none" stroke="#858585" stroke-width="0.9"/>
<text x="27.70" y="62.60" font-size="8.4" font-weight="bold" textLength="18.35" lengthAdjust="spacingAndGlyphs">PD-1</text>
<text x="94.10" y="62.60" font-size="8.4" font-weight="bold" textLength="20.80" lengthAdjust="spacingAndGlyphs">Tim-3</text>
<text x="151.70" y="62.60" font-size="8.4" font-weight="bold" textLength="18.60" lengthAdjust="spacingAndGlyphs">Lag-3</text>
<text x="27.00" y="129.20" font-size="8.4" font-weight="bold" textLength="19.80" lengthAdjust="spacingAndGlyphs">TIGIT</text>
<text x="95.10" y="129.20" font-size="8.4" font-weight="bold" textLength="20.40" lengthAdjust="spacingAndGlyphs">CD39</text>
<text x="148.10" y="129.20" font-size="8.4" font-weight="bold" textLength="26.40" lengthAdjust="spacingAndGlyphs">CTLA-4</text>
<text x="29.20" y="190.10" font-size="8.4" font-weight="bold" textLength="15.10" lengthAdjust="spacingAndGlyphs">2B4</text>
<text x="97.40" y="190.10" font-size="8.4" font-weight="bold" textLength="17.50" lengthAdjust="spacingAndGlyphs">BTLA</text>
<text x="150.90" y="190.10" font-size="8.4" font-weight="bold" textLength="24.00" lengthAdjust="spacingAndGlyphs">CD160</text>
<text x="27.70" y="257.20" font-size="8.4" font-weight="bold" textLength="18.35" lengthAdjust="spacingAndGlyphs">PD-1</text>
<text x="94.10" y="257.20" font-size="8.4" font-weight="bold" textLength="20.80" lengthAdjust="spacingAndGlyphs">Tim-3</text>
<text x="151.70" y="257.20" font-size="8.4" font-weight="bold" textLength="18.60" lengthAdjust="spacingAndGlyphs">Lag-3</text>
<text x="27.00" y="320.40" font-size="8.4" font-weight="bold" textLength="19.80" lengthAdjust="spacingAndGlyphs">TIGIT</text>
<text x="95.10" y="320.40" font-size="8.4" font-weight="bold" textLength="20.40" lengthAdjust="spacingAndGlyphs">CD39</text>
<text x="148.10" y="320.40" font-size="8.4" font-weight="bold" textLength="26.40" lengthAdjust="spacingAndGlyphs">CTLA-4</text>
<text x="29.20" y="384.60" font-size="8.4" font-weight="bold" textLength="15.10" lengthAdjust="spacingAndGlyphs">2B4</text>
<text x="97.40" y="384.60" font-size="8.4" font-weight="bold" textLength="17.50" lengthAdjust="spacingAndGlyphs">BTLA</text>
<text x="150.90" y="384.60" font-size="8.4" font-weight="bold" textLength="24.00" lengthAdjust="spacingAndGlyphs">CD160</text>
<text x="1.9" y="10.1" font-size="12.6" font-weight="bold">A</text>
<text x="2.0" y="204.9" font-size="12.4" font-weight="bold">B</text>
<rect x="0" y="191.9" width="520" height="1.8" fill="#000"/>
<text x="199.6" y="26.2" font-size="11" font-weight="bold" textLength="27.3" lengthAdjust="spacingAndGlyphs">CT2A</text>
<text x="192.7" y="223.9" font-size="11.5" font-weight="bold" textLength="48.7" lengthAdjust="spacingAndGlyphs">SMA-560</text>
<line x1="246.4" y1="7.75" x2="246.4" y2="179.4" stroke="#555" stroke-width="1"/>
<line x1="246.4" y1="179.4" x2="508.1" y2="179.4" stroke="#555" stroke-width="1"/>
<line x1="244.4" y1="179.40" x2="246.4" y2="179.40" stroke="#555" stroke-width="0.8"/>
<text x="239.10" y="182.50" font-size="8.8" textLength="3.8" lengthAdjust="spacingAndGlyphs" stroke="#000" stroke-width="0.25">0</text>
<line x1="244.4" y1="145.07" x2="246.4" y2="145.07" stroke="#555" stroke-width="0.8"/>
<text x="234.90" y="148.17" font-size="8.8" textLength="8.0" lengthAdjust="spacingAndGlyphs" stroke="#000" stroke-width="0.25">20</text>
<line x1="244.4" y1="110.74" x2="246.4" y2="110.74" stroke="#555" stroke-width="0.8"/>
<text x="234.90" y="113.84" font-size="8.8" textLength="8.0" lengthAdjust="spacingAndGlyphs" stroke="#000" stroke-width="0.25">40</text>
<line x1="244.4" y1="76.41" x2="246.4" y2="76.41" stroke="#555" stroke-width="0.8"/>
<text x="234.90" y="79.51" font-size="8.8" textLength="8.0" lengthAdjust="spacingAndGlyphs" stroke="#000" stroke-width="0.25">60</text>
<line x1="244.4" y1="42.08" x2="246.4" y2="42.08" stroke="#555" stroke-width="0.8"/>
<text x="234.90" y="45.18" font-size="8.8" textLength="8.0" lengthAdjust="spacingAndGlyphs" stroke="#000" stroke-width="0.25">80</text>
<line x1="244.4" y1="7.75" x2="246.4" y2="7.75" stroke="#555" stroke-width="0.8"/>
<text x="231.80" y="10.85" font-size="8.8" textLength="11.1" lengthAdjust="spacingAndGlyphs" stroke="#000" stroke-width="0.25">100</text>
<line x1="275.7" y1="9.8" x2="275.7" y2="179.4" stroke="#6a6a6a" stroke-width="1.2"/>
<line x1="304.6" y1="9.8" x2="304.6" y2="179.4" stroke="#6a6a6a" stroke-width="1.2"/>
<line x1="333.5" y1="9.8" x2="333.5" y2="179.4" stroke="#6a6a6a" stroke-width="1.2"/>
<line x1="363.1" y1="9.8" x2="363.1" y2="179.4" stroke="#6a6a6a" stroke-width="1.2"/>
<line x1="392" y1="9.8" x2="392" y2="179.4" stroke="#6a6a6a" stroke-width="1.2"/>
<line x1="421.2" y1="9.8" x2="421.2" y2="179.4" stroke="#6a6a6a" stroke-width="1.2"/>
<line x1="450.5" y1="9.8" x2="450.5" y2="179.4" stroke="#6a6a6a" stroke-width="1.2"/>
<line x1="478.7" y1="9.8" x2="478.7" y2="179.4" stroke="#6a6a6a" stroke-width="1.2"/>
<line x1="508.1" y1="9.8" x2="508.1" y2="179.4" stroke="#6a6a6a" stroke-width="1.2"/>
<text transform="translate(218.50,91.55) rotate(-90)" x="-27.95" y="0" font-size="8.8" textLength="55.9" lengthAdjust="spacingAndGlyphs">% of CD8<tspan font-size="5.5" dy="-3.2">+</tspan><tspan dy="3.2"> Cells</tspan></text>
<text x="249.0" y="189.5" font-size="8.4" font-weight="bold" textLength="18.1" lengthAdjust="spacingAndGlyphs">PD-1</text>
<path d="M250.25,8.7 V6 H271.5 V8.7" fill="none" stroke="#2a2a2a" stroke-width="1"/>
<circle cx="257.98" cy="3.20" r="0.9" fill="#2a2a2a"/>
<circle cx="260.88" cy="3.20" r="0.9" fill="#2a2a2a"/>
<circle cx="263.77" cy="3.20" r="0.9" fill="#2a2a2a"/>
<path d="M249.5,142.2 V139.5 H263.5 V142.2" fill="none" stroke="#2a2a2a" stroke-width="1"/>
<text x="256.50" y="137.20" font-size="5.4" text-anchor="middle" fill="#333">ns</text>
<line x1="252" y1="179.4" x2="252" y2="181.4" stroke="#555" stroke-width="0.8"/>
<line x1="252" y1="157.5" x2="252" y2="179.5" stroke="#2a2a2a" stroke-width="0.85"/>
<line x1="250.3" y1="157.5" x2="253.7" y2="157.5" stroke="#2a2a2a" stroke-width="0.85"/>
<line x1="250.3" y1="179.5" x2="253.7" y2="179.5" stroke="#2a2a2a" stroke-width="0.85"/>
<path d="M249.3,179.0 L252,177.4 L254.7,179.0 L252,180.5 Z" fill="#111"/>
<line x1="248.7" y1="168" x2="255.3" y2="168" stroke="#111" stroke-width="1"/>
<line x1="261" y1="179.4" x2="261" y2="181.4" stroke="#555" stroke-width="0.8"/>
<line x1="261" y1="153.5" x2="261" y2="162.5" stroke="#2a2a2a" stroke-width="0.85"/>
<line x1="259.3" y1="153.5" x2="262.7" y2="153.5" stroke="#2a2a2a" stroke-width="0.85"/>
<line x1="259.3" y1="162.5" x2="262.7" y2="162.5" stroke="#2a2a2a" stroke-width="0.85"/>
<path d="M261,145.2 L262.8,147 L261,148.8 L259.2,147 Z" fill="#1a1aa8"/>
<path d="M261,153.7 L262.8,155.5 L261,157.3 L259.2,155.5 Z" fill="#1a1aa8"/>
<path d="M261,158.2 L262.8,160 L261,161.8 L259.2,160 Z" fill="#1a1aa8"/>
<path d="M261,160.2 L262.8,162 L261,163.8 L259.2,162 Z" fill="#1a1aa8"/>
<path d="M261,163.7 L262.8,165.5 L261,167.3 L259.2,165.5 Z" fill="#1a1aa8"/>
<line x1="257.7" y1="158" x2="264.3" y2="158" stroke="#111" stroke-width="1"/>
<line x1="272" y1="179.4" x2="272" y2="181.4" stroke="#555" stroke-width="0.8"/>
<line x1="272" y1="30" x2="272" y2="41.5" stroke="#2a2a2a" stroke-width="0.85"/>
<line x1="270.3" y1="30" x2="273.7" y2="30" stroke="#2a2a2a" stroke-width="0.85"/>
<line x1="270.3" y1="41.5" x2="273.7" y2="41.5" stroke="#2a2a2a" stroke-width="0.85"/>
<circle cx="272" cy="15.5" r="1.15" fill="#d0262c"/>
<circle cx="272" cy="27" r="1.15" fill="#d0262c"/>
<circle cx="272" cy="44.5" r="1.15" fill="#d0262c"/>
<circle cx="272" cy="45.5" r="1.15" fill="#d0262c"/>
<circle cx="272" cy="52" r="1.15" fill="#d0262c"/>
<line x1="268.7" y1="37" x2="275.3" y2="37" stroke="#111" stroke-width="1"/>
<text x="276.0" y="189.5" font-size="8.4" font-weight="bold" textLength="21.29999999999999" lengthAdjust="spacingAndGlyphs">Tim-3</text>
<path d="M282.25,88.95 V86.25 H300.5 V88.95" fill="none" stroke="#2a2a2a" stroke-width="1"/>
<circle cx="288.48" cy="83.45" r="0.9" fill="#2a2a2a"/>
<circle cx="291.38" cy="83.45" r="0.9" fill="#2a2a2a"/>
<circle cx="294.27" cy="83.45" r="0.9" fill="#2a2a2a"/>
<path d="M279,172.7 V170 H292.5 V172.7" fill="none" stroke="#2a2a2a" stroke-width="1"/>
<text x="285.75" y="167.70" font-size="5.4" text-anchor="middle" fill="#333">ns</text>
<line x1="281.5" y1="179.4" x2="281.5" y2="181.4" stroke="#555" stroke-width="0.8"/>
<path d="M278.8,179.0 L281.5,177.4 L284.2,179.0 L281.5,180.5 Z" fill="#111"/>
<path d="M278.8,179.0 L281.5,177.4 L284.2,179.0 L281.5,180.5 Z" fill="#111"/>
<line x1="291" y1="179.4" x2="291" y2="181.4" stroke="#555" stroke-width="0.8"/>
<path d="M288.3,179.0 L291,177.4 L293.7,179.0 L291,180.5 Z" fill="#1a1aa8"/>
<path d="M288.3,179.0 L291,177.4 L293.7,179.0 L291,180.5 Z" fill="#1a1aa8"/>
<line x1="300" y1="179.4" x2="300" y2="181.4" stroke="#555" stroke-width="0.8"/>
<line x1="300" y1="103.5" x2="300" y2="118" stroke="#2a2a2a" stroke-width="0.85"/>
<line x1="298.3" y1="103.5" x2="301.7" y2="103.5" stroke="#2a2a2a" stroke-width="0.85"/>
<line x1="298.3" y1="118" x2="301.7" y2="118" stroke="#2a2a2a" stroke-width="0.85"/>
<circle cx="301.5" cy="96.9" r="1.15" fill="#d0262c"/>
<circle cx="299.5" cy="99.75" r="1.15" fill="#d0262c"/>
<circle cx="300" cy="120.25" r="1.15" fill="#d0262c"/>
<circle cx="300" cy="126.25" r="1.15" fill="#d0262c"/>
<circle cx="300" cy="104" r="1.15" fill="#d0262c"/>
<line x1="296.7" y1="111" x2="303.3" y2="111" stroke="#111" stroke-width="1"/>
<text x="304.5" y="189.5" font-size="8.4" font-weight="bold" textLength="19.79999999999999" lengthAdjust="spacingAndGlyphs">Lag-3</text>
<path d="M310.5,34.7 V32 H330 V34.7" fill="none" stroke="#2a2a2a" stroke-width="1"/>
<circle cx="317.35" cy="29.20" r="0.9" fill="#2a2a2a"/>
<circle cx="320.25" cy="29.20" r="0.9" fill="#2a2a2a"/>
<circle cx="323.15" cy="29.20" r="0.9" fill="#2a2a2a"/>
<path d="M307.5,172.7 V170 H322 V172.7" fill="none" stroke="#2a2a2a" stroke-width="1"/>
<text x="314.75" y="167.70" font-size="5.4" text-anchor="middle" fill="#333">ns</text>
<line x1="309.5" y1="179.4" x2="309.5" y2="181.4" stroke="#555" stroke-width="0.8"/>
<path d="M306.8,179.0 L309.5,177.4 L312.2,179.0 L309.5,180.5 Z" fill="#111"/>
<line x1="319.5" y1="179.4" x2="319.5" y2="181.4" stroke="#555" stroke-width="0.8"/>
<path d="M316.8,179.0 L319.5,177.4 L322.2,179.0 L319.5,180.5 Z" fill="#1a1aa8"/>
<path d="M316.8,179.0 L319.5,177.4 L322.2,179.0 L319.5,180.5 Z" fill="#1a1aa8"/>
<line x1="329.5" y1="179.4" x2="329.5" y2="181.4" stroke="#555" stroke-width="0.8"/>
<line x1="329.5" y1="46.5" x2="329.5" y2="51.5" stroke="#2a2a2a" stroke-width="0.85"/>
<line x1="327.8" y1="46.5" x2="331.2" y2="46.5" stroke="#2a2a2a" stroke-width="0.85"/>
<line x1="327.8" y1="51.5" x2="331.2" y2="51.5" stroke="#2a2a2a" stroke-width="0.85"/>
<circle cx="329.5" cy="39.3" r="1.15" fill="#d0262c"/>
<circle cx="329.5" cy="50" r="1.15" fill="#d0262c"/>
<circle cx="329.5" cy="52" r="1.15" fill="#d0262c"/>
<circle cx="329.5" cy="53.5" r="1.15" fill="#d0262c"/>
<line x1="326.2" y1="49" x2="332.8" y2="49" stroke="#111" stroke-width="1"/>
<text x="335.7" y="189.5" font-size="8.4" font-weight="bold" textLength="18.6" lengthAdjust="spacingAndGlyphs">TIGIT</text>
<path d="M340.5,34.7 V32 H359 V34.7" fill="none" stroke="#2a2a2a" stroke-width="1"/>
<circle cx="346.85" cy="29.20" r="0.9" fill="#2a2a2a"/>
<circle cx="349.75" cy="29.20" r="0.9" fill="#2a2a2a"/>
<circle cx="352.65" cy="29.20" r="0.9" fill="#2a2a2a"/>
<path d="M337,173.2 V170.5 H350 V173.2" fill="none" stroke="#2a2a2a" stroke-width="1"/>
<circle cx="343.50" cy="167.70" r="0.9" fill="#2a2a2a"/>
<line x1="339" y1="179.4" x2="339" y2="181.4" stroke="#555" stroke-width="0.8"/>
<path d="M336.3,179.0 L339,177.4 L341.7,179.0 L339,180.5 Z" fill="#111"/>
<line x1="348" y1="179.4" x2="348" y2="181.4" stroke="#555" stroke-width="0.8"/>
<path d="M345.3,179.0 L348,177.4 L350.7,179.0 L348,180.5 Z" fill="#1a1aa8"/>
<path d="M345.3,179.0 L348,177.4 L350.7,179.0 L348,180.5 Z" fill="#1a1aa8"/>
<line x1="358.5" y1="179.4" x2="358.5" y2="181.4" stroke="#555" stroke-width="0.8"/>
<line x1="358.5" y1="47.5" x2="358.5" y2="58" stroke="#2a2a2a" stroke-width="0.85"/>
<line x1="356.8" y1="47.5" x2="360.2" y2="47.5" stroke="#2a2a2a" stroke-width="0.85"/>
<line x1="356.8" y1="58" x2="360.2" y2="58" stroke="#2a2a2a" stroke-width="0.85"/>
<circle cx="358.5" cy="39.5" r="1.15" fill="#d0262c"/>
<circle cx="358.5" cy="49" r="1.15" fill="#d0262c"/>
<circle cx="358.5" cy="61" r="1.15" fill="#d0262c"/>
<circle cx="358.5" cy="63" r="1.15" fill="#d0262c"/>
<line x1="355.2" y1="53" x2="361.8" y2="53" stroke="#111" stroke-width="1"/>
<text x="363.2" y="189.5" font-size="8.4" font-weight="bold" textLength="18.6" lengthAdjust="spacingAndGlyphs">CD39</text>
<path d="M368,12.2 V9.5 H388 V12.2" fill="none" stroke="#2a2a2a" stroke-width="1"/>
<circle cx="375.10" cy="6.70" r="0.9" fill="#2a2a2a"/>
<circle cx="378.00" cy="6.70" r="0.9" fill="#2a2a2a"/>
<circle cx="380.90" cy="6.70" r="0.9" fill="#2a2a2a"/>
<path d="M365.5,175.2 V172.5 H379.5 V175.2" fill="none" stroke="#2a2a2a" stroke-width="1"/>
<text x="372.50" y="170.20" font-size="5.4" text-anchor="middle" fill="#333">ns</text>
<line x1="367.5" y1="179.4" x2="367.5" y2="181.4" stroke="#555" stroke-width="0.8"/>
<path d="M364.8,179.0 L367.5,177.4 L370.2,179.0 L367.5,180.5 Z" fill="#111"/>
<line x1="377.5" y1="179.4" x2="377.5" y2="181.4" stroke="#555" stroke-width="0.8"/>
<path d="M374.8,179.0 L377.5,177.4 L380.2,179.0 L377.5,180.5 Z" fill="#1a1aa8"/>
<path d="M374.8,179.0 L377.5,177.4 L380.2,179.0 L377.5,180.5 Z" fill="#1a1aa8"/>
<line x1="387" y1="179.4" x2="387" y2="181.4" stroke="#555" stroke-width="0.8"/>
<line x1="387" y1="32.5" x2="387" y2="42" stroke="#2a2a2a" stroke-width="0.85"/>
<line x1="385.3" y1="32.5" x2="388.7" y2="32.5" stroke="#2a2a2a" stroke-width="0.85"/>
<line x1="385.3" y1="42" x2="388.7" y2="42" stroke="#2a2a2a" stroke-width="0.85"/>
<circle cx="387" cy="13.5" r="1.15" fill="#d0262c"/>
<circle cx="387" cy="40" r="1.15" fill="#d0262c"/>
<circle cx="387" cy="45" r="1.15" fill="#d0262c"/>
<circle cx="387" cy="46.5" r="1.15" fill="#d0262c"/>
<circle cx="387" cy="47.5" r="1.15" fill="#d0262c"/>
<line x1="383.7" y1="38.5" x2="390.3" y2="38.5" stroke="#111" stroke-width="1"/>
<text x="391.3" y="189.5" font-size="8.4" font-weight="bold" textLength="25.199999999999967" lengthAdjust="spacingAndGlyphs">CTLA-4</text>
<path d="M398.5,68.2 V65.5 H417 V68.2" fill="none" stroke="#2a2a2a" stroke-width="1"/>
<circle cx="406.30" cy="62.70" r="0.9" fill="#2a2a2a"/>
<circle cx="409.20" cy="62.70" r="0.9" fill="#2a2a2a"/>
<path d="M395,173.7 V171 H409 V173.7" fill="none" stroke="#2a2a2a" stroke-width="1"/>
<text x="402.00" y="168.70" font-size="5.4" text-anchor="middle" fill="#333">ns</text>
<line x1="397" y1="179.4" x2="397" y2="181.4" stroke="#555" stroke-width="0.8"/>
<path d="M394.3,179.0 L397,177.4 L399.7,179.0 L397,180.5 Z" fill="#111"/>
<line x1="407" y1="179.4" x2="407" y2="181.4" stroke="#555" stroke-width="0.8"/>
<path d="M404.3,179.0 L407,177.4 L409.7,179.0 L407,180.5 Z" fill="#1a1aa8"/>
<path d="M407,174.7 L408.8,176.5 L407,178.3 L405.2,176.5 Z" fill="#1a1aa8"/>
<line x1="416.5" y1="179.4" x2="416.5" y2="181.4" stroke="#555" stroke-width="0.8"/>
<line x1="416.5" y1="95" x2="416.5" y2="118.5" stroke="#2a2a2a" stroke-width="0.85"/>
<line x1="414.8" y1="95" x2="418.2" y2="95" stroke="#2a2a2a" stroke-width="0.85"/>
<line x1="414.8" y1="118.5" x2="418.2" y2="118.5" stroke="#2a2a2a" stroke-width="0.85"/>
<circle cx="416.5" cy="70" r="1.15" fill="#d0262c"/>
<circle cx="416.5" cy="100.5" r="1.15" fill="#d0262c"/>
<circle cx="416.5" cy="132.5" r="1.15" fill="#d0262c"/>
<circle cx="416.5" cy="136" r="1.15" fill="#d0262c"/>
<line x1="413.2" y1="107" x2="419.8" y2="107" stroke="#111" stroke-width="1"/>
<text x="424.7" y="189.5" font-size="8.4" font-weight="bold" textLength="15.1" lengthAdjust="spacingAndGlyphs">2B4</text>
<path d="M428,27.7 V25 H447.5 V27.7" fill="none" stroke="#2a2a2a" stroke-width="1"/>
<circle cx="434.85" cy="22.20" r="0.9" fill="#2a2a2a"/>
<circle cx="437.75" cy="22.20" r="0.9" fill="#2a2a2a"/>
<circle cx="440.65" cy="22.20" r="0.9" fill="#2a2a2a"/>
<path d="M427,173.2 V170.5 H437.5 V173.2" fill="none" stroke="#2a2a2a" stroke-width="1"/>
<text x="432.25" y="168.20" font-size="5.4" text-anchor="middle" fill="#333">ns</text>
<line x1="427" y1="179.4" x2="427" y2="181.4" stroke="#555" stroke-width="0.8"/>
<path d="M424.3,179.0 L427,177.4 L429.7,179.0 L427,180.5 Z" fill="#111"/>
<line x1="436" y1="179.4" x2="436" y2="181.4" stroke="#555" stroke-width="0.8"/>
<path d="M433.3,179.0 L436,177.4 L438.7,179.0 L436,180.5 Z" fill="#1a1aa8"/>
<line x1="445.5" y1="179.4" x2="445.5" y2="181.4" stroke="#555" stroke-width="0.8"/>
<line x1="445.5" y1="41.5" x2="445.5" y2="50" stroke="#2a2a2a" stroke-width="0.85"/>
<line x1="443.8" y1="41.5" x2="447.2" y2="41.5" stroke="#2a2a2a" stroke-width="0.85"/>
<line x1="443.8" y1="50" x2="447.2" y2="50" stroke="#2a2a2a" stroke-width="0.85"/>
<circle cx="445.5" cy="31" r="1.15" fill="#d0262c"/>
<circle cx="445.5" cy="42.5" r="1.15" fill="#d0262c"/>
<circle cx="445.5" cy="44.5" r="1.15" fill="#d0262c"/>
<circle cx="445.5" cy="51" r="1.15" fill="#d0262c"/>
<circle cx="445.5" cy="60.5" r="1.15" fill="#d0262c"/>
<line x1="442.2" y1="46.5" x2="448.8" y2="46.5" stroke="#111" stroke-width="1"/>
<text x="451.2" y="189.5" font-size="8.4" font-weight="bold" textLength="18.6" lengthAdjust="spacingAndGlyphs">BTLA</text>
<path d="M453,166.95 V164.25 H473.75 V166.95" fill="none" stroke="#2a2a2a" stroke-width="1"/>
<circle cx="463.38" cy="161.45" r="0.9" fill="#2a2a2a"/>
<path d="M453,174.45 V171.75 H465.5 V174.45" fill="none" stroke="#2a2a2a" stroke-width="1"/>
<text x="459.25" y="169.45" font-size="5.4" text-anchor="middle" fill="#333">ns</text>
<line x1="456" y1="179.4" x2="456" y2="181.4" stroke="#555" stroke-width="0.8"/>
<path d="M453.3,179.0 L456,177.4 L458.7,179.0 L456,180.5 Z" fill="#111"/>
<line x1="465" y1="179.4" x2="465" y2="181.4" stroke="#555" stroke-width="0.8"/>
<path d="M462.3,179.0 L465,177.4 L467.7,179.0 L465,180.5 Z" fill="#1a1aa8"/>
<line x1="474.4" y1="179.4" x2="474.4" y2="181.4" stroke="#555" stroke-width="0.8"/>
<path d="M471.7,179.0 L474.4,177.4 L477.09999999999997,179.0 L474.4,180.5 Z" fill="#d0262c"/>
<text x="477.3" y="189.5" font-size="8.4" font-weight="bold" textLength="24.99999999999998" lengthAdjust="spacingAndGlyphs">CD160</text>
<path d="M483.5,149.2 V146.5 H504 V149.2" fill="none" stroke="#2a2a2a" stroke-width="1"/>
<circle cx="490.85" cy="143.70" r="0.9" fill="#2a2a2a"/>
<circle cx="493.75" cy="143.70" r="0.9" fill="#2a2a2a"/>
<circle cx="496.65" cy="143.70" r="0.9" fill="#2a2a2a"/>
<path d="M483.5,175.45 V172.75 H496.25 V175.45" fill="none" stroke="#2a2a2a" stroke-width="1"/>
<text x="489.88" y="170.45" font-size="5.4" text-anchor="middle" fill="#333">ns</text>
<line x1="483.75" y1="179.4" x2="483.75" y2="181.4" stroke="#555" stroke-width="0.8"/>
<path d="M481.05,179.0 L483.75,177.4 L486.45,179.0 L483.75,180.5 Z" fill="#111"/>
<line x1="493.75" y1="179.4" x2="493.75" y2="181.4" stroke="#555" stroke-width="0.8"/>
<path d="M491.05,179.0 L493.75,177.4 L496.45,179.0 L493.75,180.5 Z" fill="#1a1aa8"/>
<line x1="503" y1="179.4" x2="503" y2="181.4" stroke="#555" stroke-width="0.8"/>
<line x1="503" y1="158" x2="503" y2="164" stroke="#2a2a2a" stroke-width="0.85"/>
<line x1="501.3" y1="158" x2="504.7" y2="158" stroke="#2a2a2a" stroke-width="0.85"/>
<line x1="501.3" y1="164" x2="504.7" y2="164" stroke="#2a2a2a" stroke-width="0.85"/>
<circle cx="503" cy="156" r="1.15" fill="#d0262c"/>
<circle cx="503" cy="160" r="1.15" fill="#d0262c"/>
<circle cx="503" cy="161.5" r="1.15" fill="#d0262c"/>
<circle cx="503" cy="163.5" r="1.15" fill="#d0262c"/>
<circle cx="503" cy="165" r="1.15" fill="#d0262c"/>
<line x1="499.7" y1="161.5" x2="506.3" y2="161.5" stroke="#111" stroke-width="1"/>
<line x1="248.7" y1="205.10" x2="248.7" y2="371.6" stroke="#555" stroke-width="1"/>
<line x1="248.7" y1="371.6" x2="506.9" y2="371.6" stroke="#555" stroke-width="1"/>
<line x1="246.7" y1="371.60" x2="248.7" y2="371.60" stroke="#555" stroke-width="0.8"/>
<text x="241.40" y="374.70" font-size="8.8" textLength="3.8" lengthAdjust="spacingAndGlyphs" stroke="#000" stroke-width="0.25">0</text>
<line x1="246.7" y1="338.30" x2="248.7" y2="338.30" stroke="#555" stroke-width="0.8"/>
<text x="237.20" y="341.40" font-size="8.8" textLength="8.0" lengthAdjust="spacingAndGlyphs" stroke="#000" stroke-width="0.25">20</text>
<line x1="246.7" y1="305.00" x2="248.7" y2="305.00" stroke="#555" stroke-width="0.8"/>
<text x="237.20" y="308.10" font-size="8.8" textLength="8.0" lengthAdjust="spacingAndGlyphs" stroke="#000" stroke-width="0.25">40</text>
<line x1="246.7" y1="271.70" x2="248.7" y2="271.70" stroke="#555" stroke-width="0.8"/>
<text x="237.20" y="274.80" font-size="8.8" textLength="8.0" lengthAdjust="spacingAndGlyphs" stroke="#000" stroke-width="0.25">60</text>
<line x1="246.7" y1="238.40" x2="248.7" y2="238.40" stroke="#555" stroke-width="0.8"/>
<text x="237.20" y="241.50" font-size="8.8" textLength="8.0" lengthAdjust="spacingAndGlyphs" stroke="#000" stroke-width="0.25">80</text>
<line x1="246.7" y1="205.10" x2="248.7" y2="205.10" stroke="#555" stroke-width="0.8"/>
<text x="234.10" y="208.20" font-size="8.8" textLength="11.1" lengthAdjust="spacingAndGlyphs" stroke="#000" stroke-width="0.25">100</text>
<line x1="277.7" y1="202.9" x2="277.7" y2="371.6" stroke="#6a6a6a" stroke-width="1.2"/>
<line x1="306.2" y1="202.9" x2="306.2" y2="371.6" stroke="#6a6a6a" stroke-width="1.2"/>
<line x1="335.4" y1="202.9" x2="335.4" y2="371.6" stroke="#6a6a6a" stroke-width="1.2"/>
<line x1="363.1" y1="202.9" x2="363.1" y2="371.6" stroke="#6a6a6a" stroke-width="1.2"/>
<line x1="391.8" y1="202.9" x2="391.8" y2="371.6" stroke="#6a6a6a" stroke-width="1.2"/>
<line x1="420.4" y1="202.9" x2="420.4" y2="371.6" stroke="#6a6a6a" stroke-width="1.2"/>
<line x1="450" y1="202.9" x2="450" y2="371.6" stroke="#6a6a6a" stroke-width="1.2"/>
<line x1="477.4" y1="202.9" x2="477.4" y2="371.6" stroke="#6a6a6a" stroke-width="1.2"/>
<line x1="506.9" y1="202.9" x2="506.9" y2="371.6" stroke="#6a6a6a" stroke-width="1.2"/>
<text transform="translate(227.50,286.90) rotate(-90)" x="-28.60" y="0" font-size="8.8" textLength="57.19999999999999" lengthAdjust="spacingAndGlyphs">% of CD8<tspan font-size="5.5" dy="-3.2">+</tspan><tspan dy="3.2"> Cells</tspan></text>
<text x="250.7" y="386" font-size="8.4" font-weight="bold" textLength="17.85" lengthAdjust="spacingAndGlyphs">PD-1</text>
<path d="M252,205.2 V202.5 H273 V205.2" fill="none" stroke="#2a2a2a" stroke-width="1"/>
<circle cx="259.60" cy="199.70" r="0.9" fill="#2a2a2a"/>
<circle cx="262.50" cy="199.70" r="0.9" fill="#2a2a2a"/>
<circle cx="265.40" cy="199.70" r="0.9" fill="#2a2a2a"/>
<path d="M252,360.7 V358 H264.5 V360.7" fill="none" stroke="#2a2a2a" stroke-width="1"/>
<text x="258.25" y="356.70" font-size="5.4" text-anchor="middle" fill="#333">ns</text>
<line x1="253.75" y1="371.6" x2="253.75" y2="373.6" stroke="#555" stroke-width="0.8"/>
<line x1="253.75" y1="366" x2="253.75" y2="371.5" stroke="#2a2a2a" stroke-width="0.85"/>
<line x1="252.05" y1="366" x2="255.45" y2="366" stroke="#2a2a2a" stroke-width="0.85"/>
<line x1="252.05" y1="371.5" x2="255.45" y2="371.5" stroke="#2a2a2a" stroke-width="0.85"/>
<path d="M253.75,365.7 L255.55,367.5 L253.75,369.3 L251.95,367.5 Z" fill="#111"/>
<path d="M251.05,371.20000000000005 L253.75,369.6 L256.45,371.20000000000005 L253.75,372.70000000000005 Z" fill="#111"/>
<line x1="250.45" y1="369.3" x2="257.05" y2="369.3" stroke="#111" stroke-width="1"/>
<line x1="263" y1="371.6" x2="263" y2="373.6" stroke="#555" stroke-width="0.8"/>
<path d="M260.3,371.20000000000005 L263,369.6 L265.7,371.20000000000005 L263,372.70000000000005 Z" fill="#1a1aa8"/>
<path d="M260.3,371.20000000000005 L263,369.6 L265.7,371.20000000000005 L263,372.70000000000005 Z" fill="#1a1aa8"/>
<line x1="272.5" y1="371.6" x2="272.5" y2="373.6" stroke="#555" stroke-width="0.8"/>
<line x1="272.5" y1="222" x2="272.5" y2="228" stroke="#2a2a2a" stroke-width="0.85"/>
<line x1="270.8" y1="222" x2="274.2" y2="222" stroke="#2a2a2a" stroke-width="0.85"/>
<line x1="270.8" y1="228" x2="274.2" y2="228" stroke="#2a2a2a" stroke-width="0.85"/>
<circle cx="272.5" cy="210" r="1.15" fill="#d0262c"/>
<circle cx="272.5" cy="222" r="1.15" fill="#d0262c"/>
<circle cx="272.5" cy="223.5" r="1.15" fill="#d0262c"/>
<circle cx="272.5" cy="229.5" r="1.15" fill="#d0262c"/>
<circle cx="272.5" cy="237.75" r="1.15" fill="#d0262c"/>
<line x1="269.2" y1="225" x2="275.8" y2="225" stroke="#111" stroke-width="1"/>
<text x="277.2" y="386" font-size="8.4" font-weight="bold" textLength="21.85" lengthAdjust="spacingAndGlyphs">Tim-3</text>
<path d="M282.5,217.7 V215 H303 V217.7" fill="none" stroke="#2a2a2a" stroke-width="1"/>
<circle cx="289.85" cy="212.20" r="0.9" fill="#2a2a2a"/>
<circle cx="292.75" cy="212.20" r="0.9" fill="#2a2a2a"/>
<circle cx="295.65" cy="212.20" r="0.9" fill="#2a2a2a"/>
<path d="M279,363.2 V360.5 H291.5 V363.2" fill="none" stroke="#2a2a2a" stroke-width="1"/>
<text x="285.25" y="359.20" font-size="5.4" text-anchor="middle" fill="#333">ns</text>
<line x1="282.5" y1="371.6" x2="282.5" y2="373.6" stroke="#555" stroke-width="0.8"/>
<path d="M279.8,371.20000000000005 L282.5,369.6 L285.2,371.20000000000005 L282.5,372.70000000000005 Z" fill="#111"/>
<line x1="291.25" y1="371.6" x2="291.25" y2="373.6" stroke="#555" stroke-width="0.8"/>
<path d="M288.55,371.20000000000005 L291.25,369.6 L293.95,371.20000000000005 L291.25,372.70000000000005 Z" fill="#1a1aa8"/>
<line x1="301" y1="371.6" x2="301" y2="373.6" stroke="#555" stroke-width="0.8"/>
<line x1="301" y1="251.5" x2="301" y2="272" stroke="#2a2a2a" stroke-width="0.85"/>
<line x1="299.3" y1="251.5" x2="302.7" y2="251.5" stroke="#2a2a2a" stroke-width="0.85"/>
<line x1="299.3" y1="272" x2="302.7" y2="272" stroke="#2a2a2a" stroke-width="0.85"/>
<circle cx="301" cy="224.5" r="1.15" fill="#d0262c"/>
<circle cx="301" cy="260.75" r="1.15" fill="#d0262c"/>
<circle cx="301" cy="267" r="1.15" fill="#d0262c"/>
<circle cx="301" cy="268.25" r="1.15" fill="#d0262c"/>
<circle cx="301" cy="288" r="1.15" fill="#d0262c"/>
<line x1="297.7" y1="261" x2="304.3" y2="261" stroke="#111" stroke-width="1"/>
<text x="308.7" y="386" font-size="8.4" font-weight="bold" textLength="20.200000000000024" lengthAdjust="spacingAndGlyphs">Lag-3</text>
<path d="M311.5,244.7 V242 H332 V244.7" fill="none" stroke="#2a2a2a" stroke-width="1"/>
<circle cx="318.85" cy="239.20" r="0.9" fill="#2a2a2a"/>
<circle cx="321.75" cy="239.20" r="0.9" fill="#2a2a2a"/>
<circle cx="324.65" cy="239.20" r="0.9" fill="#2a2a2a"/>
<path d="M307.5,363.2 V360.5 H320.5 V363.2" fill="none" stroke="#2a2a2a" stroke-width="1"/>
<text x="314.00" y="359.20" font-size="5.4" text-anchor="middle" fill="#333">ns</text>
<line x1="310" y1="371.6" x2="310" y2="373.6" stroke="#555" stroke-width="0.8"/>
<path d="M307.3,371.20000000000005 L310,369.6 L312.7,371.20000000000005 L310,372.70000000000005 Z" fill="#111"/>
<line x1="320" y1="371.6" x2="320" y2="373.6" stroke="#555" stroke-width="0.8"/>
<path d="M317.3,371.20000000000005 L320,369.6 L322.7,371.20000000000005 L320,372.70000000000005 Z" fill="#1a1aa8"/>
<line x1="330" y1="371.6" x2="330" y2="373.6" stroke="#555" stroke-width="0.8"/>
<line x1="330" y1="266.5" x2="330" y2="288" stroke="#2a2a2a" stroke-width="0.85"/>
<line x1="328.3" y1="266.5" x2="331.7" y2="266.5" stroke="#2a2a2a" stroke-width="0.85"/>
<line x1="328.3" y1="288" x2="331.7" y2="288" stroke="#2a2a2a" stroke-width="0.85"/>
<circle cx="330" cy="251.5" r="1.15" fill="#d0262c"/>
<circle cx="330" cy="264.5" r="1.15" fill="#d0262c"/>
<circle cx="330" cy="270" r="1.15" fill="#d0262c"/>
<circle cx="330" cy="287" r="1.15" fill="#d0262c"/>
<circle cx="330" cy="310" r="1.15" fill="#d0262c"/>
<line x1="326.7" y1="276.5" x2="333.3" y2="276.5" stroke="#111" stroke-width="1"/>
<text x="337.7" y="386" font-size="8.4" font-weight="bold" textLength="19.700000000000024" lengthAdjust="spacingAndGlyphs">TIGIT</text>
<path d="M338,300.2 V297.5 H358.5 V300.2" fill="none" stroke="#2a2a2a" stroke-width="1"/>
<text x="348.25" y="296.20" font-size="5.4" text-anchor="middle" fill="#333">ns</text>
<path d="M338,370.7 V368 H350 V370.7" fill="none" stroke="#2a2a2a" stroke-width="1"/>
<text x="344.00" y="366.70" font-size="5.4" text-anchor="middle" fill="#333">ns</text>
<line x1="339.5" y1="371.6" x2="339.5" y2="373.6" stroke="#555" stroke-width="0.8"/>
<path d="M336.8,371.20000000000005 L339.5,369.6 L342.2,371.20000000000005 L339.5,372.70000000000005 Z" fill="#111"/>
<line x1="349" y1="371.6" x2="349" y2="373.6" stroke="#555" stroke-width="0.8"/>
<path d="M346.3,371.20000000000005 L349,369.6 L351.7,371.20000000000005 L349,372.70000000000005 Z" fill="#1a1aa8"/>
<line x1="358.5" y1="371.6" x2="358.5" y2="373.6" stroke="#555" stroke-width="0.8"/>
<line x1="358.5" y1="333.5" x2="358.5" y2="355.5" stroke="#2a2a2a" stroke-width="0.85"/>
<line x1="356.8" y1="333.5" x2="360.2" y2="333.5" stroke="#2a2a2a" stroke-width="0.85"/>
<line x1="356.8" y1="355.5" x2="360.2" y2="355.5" stroke="#2a2a2a" stroke-width="0.85"/>
<circle cx="358.5" cy="301" r="1.15" fill="#d0262c"/>
<circle cx="358.5" cy="350.5" r="1.15" fill="#d0262c"/>
<circle cx="358.5" cy="355" r="1.15" fill="#d0262c"/>
<circle cx="358.5" cy="362" r="1.15" fill="#d0262c"/>
<circle cx="358.5" cy="367" r="1.15" fill="#d0262c"/>
<line x1="355.2" y1="345.5" x2="361.8" y2="345.5" stroke="#111" stroke-width="1"/>
<text x="364.7" y="386" font-size="8.4" font-weight="bold" textLength="19.6" lengthAdjust="spacingAndGlyphs">CD39</text>
<path d="M367,220.7 V218 H387.5 V220.7" fill="none" stroke="#2a2a2a" stroke-width="1"/>
<circle cx="374.35" cy="215.20" r="0.9" fill="#2a2a2a"/>
<circle cx="377.25" cy="215.20" r="0.9" fill="#2a2a2a"/>
<circle cx="380.15" cy="215.20" r="0.9" fill="#2a2a2a"/>
<path d="M366.5,363.7 V361 H380 V363.7" fill="none" stroke="#2a2a2a" stroke-width="1"/>
<text x="373.25" y="359.70" font-size="5.4" text-anchor="middle" fill="#333">ns</text>
<line x1="367" y1="371.6" x2="367" y2="373.6" stroke="#555" stroke-width="0.8"/>
<path d="M366.3,366.5 L368.1,368.3 L366.3,370.1 L364.5,368.3 Z" fill="#111"/>
<path d="M367.8,366.5 L369.6,368.3 L367.8,370.1 L366.0,368.3 Z" fill="#111"/>
<path d="M364.3,371.20000000000005 L367,369.6 L369.7,371.20000000000005 L367,372.70000000000005 Z" fill="#111"/>
<line x1="378" y1="371.6" x2="378" y2="373.6" stroke="#555" stroke-width="0.8"/>
<path d="M374.7,371.20000000000005 L377.4,369.6 L380.09999999999997,371.20000000000005 L377.4,372.70000000000005 Z" fill="#1a1aa8"/>
<path d="M375.7,371.20000000000005 L378.4,369.6 L381.09999999999997,371.20000000000005 L378.4,372.70000000000005 Z" fill="#1a1aa8"/>
<path d="M375.3,371.20000000000005 L378,369.6 L380.7,371.20000000000005 L378,372.70000000000005 Z" fill="#1a1aa8"/>
<line x1="387" y1="371.6" x2="387" y2="373.6" stroke="#555" stroke-width="0.8"/>
<line x1="387" y1="243" x2="387" y2="263" stroke="#2a2a2a" stroke-width="0.85"/>
<line x1="385.3" y1="243" x2="388.7" y2="243" stroke="#2a2a2a" stroke-width="0.85"/>
<line x1="385.3" y1="263" x2="388.7" y2="263" stroke="#2a2a2a" stroke-width="0.85"/>
<circle cx="387" cy="223.7" r="1.15" fill="#d0262c"/>
<circle cx="387" cy="236.3" r="1.15" fill="#d0262c"/>
<circle cx="387" cy="253" r="1.15" fill="#d0262c"/>
<circle cx="387" cy="272.5" r="1.15" fill="#d0262c"/>
<circle cx="387" cy="275" r="1.15" fill="#d0262c"/>
<line x1="383.7" y1="253" x2="390.3" y2="253" stroke="#111" stroke-width="1"/>
<text x="393.0" y="386" font-size="8.4" font-weight="bold" textLength="24.99999999999998" lengthAdjust="spacingAndGlyphs">CTLA-4</text>
<path d="M395,350.7 V348 H415.5 V350.7" fill="none" stroke="#2a2a2a" stroke-width="1"/>
<text x="405.25" y="346.70" font-size="5.4" text-anchor="middle" fill="#333">ns</text>
<path d="M395,362.7 V360 H408 V362.7" fill="none" stroke="#2a2a2a" stroke-width="1"/>
<text x="401.50" y="358.70" font-size="5.4" text-anchor="middle" fill="#333">ns</text>
<line x1="396" y1="371.6" x2="396" y2="373.6" stroke="#555" stroke-width="0.8"/>
<line x1="396" y1="365.5" x2="396" y2="371" stroke="#2a2a2a" stroke-width="0.85"/>
<line x1="394.3" y1="365.5" x2="397.7" y2="365.5" stroke="#2a2a2a" stroke-width="0.85"/>
<line x1="394.3" y1="371" x2="397.7" y2="371" stroke="#2a2a2a" stroke-width="0.85"/>
<path d="M396,365.7 L397.8,367.5 L396,369.3 L394.2,367.5 Z" fill="#111"/>
<path d="M393.3,371.20000000000005 L396,369.6 L398.7,371.20000000000005 L396,372.70000000000005 Z" fill="#111"/>
<line x1="392.7" y1="367.5" x2="399.3" y2="367.5" stroke="#111" stroke-width="1"/>
<line x1="406.5" y1="371.6" x2="406.5" y2="373.6" stroke="#555" stroke-width="0.8"/>
<path d="M406.5,364.5 L408.3,366.3 L406.5,368.1 L404.7,366.3 Z" fill="#1a1aa8"/>
<path d="M406.5,366.0 L408.3,367.8 L406.5,369.6 L404.7,367.8 Z" fill="#1a1aa8"/>
<path d="M403.3,371.20000000000005 L406,369.6 L408.7,371.20000000000005 L406,372.70000000000005 Z" fill="#1a1aa8"/>
<path d="M404.3,371.20000000000005 L407,369.6 L409.7,371.20000000000005 L407,372.70000000000005 Z" fill="#1a1aa8"/>
<line x1="415" y1="371.6" x2="415" y2="373.6" stroke="#555" stroke-width="0.8"/>
<circle cx="415" cy="357" r="1.15" fill="#d0262c"/>
<circle cx="415" cy="362" r="1.15" fill="#d0262c"/>
<circle cx="415" cy="363" r="1.15" fill="#d0262c"/>
<circle cx="415" cy="366" r="1.15" fill="#d0262c"/>
<line x1="411.7" y1="363" x2="418.3" y2="363" stroke="#111" stroke-width="1"/>
<text x="426.09999999999997" y="386" font-size="8.4" font-weight="bold" textLength="14.500000000000034" lengthAdjust="spacingAndGlyphs">2B4</text>
<path d="M423.5,356.2 V353.5 H444.5 V356.2" fill="none" stroke="#2a2a2a" stroke-width="1"/>
<circle cx="434.00" cy="350.70" r="0.9" fill="#2a2a2a"/>
<path d="M423.5,366.7 V364 H436 V366.7" fill="none" stroke="#2a2a2a" stroke-width="1"/>
<text x="429.75" y="362.70" font-size="5.4" text-anchor="middle" fill="#333">ns</text>
<line x1="425" y1="371.6" x2="425" y2="373.6" stroke="#555" stroke-width="0.8"/>
<path d="M422.3,371.20000000000005 L425,369.6 L427.7,371.20000000000005 L425,372.70000000000005 Z" fill="#111"/>
<line x1="434.5" y1="371.6" x2="434.5" y2="373.6" stroke="#555" stroke-width="0.8"/>
<path d="M431.8,371.20000000000005 L434.5,369.6 L437.2,371.20000000000005 L434.5,372.70000000000005 Z" fill="#1a1aa8"/>
<line x1="444" y1="371.6" x2="444" y2="373.6" stroke="#555" stroke-width="0.8"/>
<circle cx="444" cy="362.3" r="1.15" fill="#d0262c"/>
<circle cx="444" cy="367" r="1.15" fill="#d0262c"/>
<circle cx="444" cy="368.5" r="1.15" fill="#d0262c"/>
<circle cx="443" cy="368" r="1.15" fill="#d0262c"/>
<circle cx="445" cy="368" r="1.15" fill="#d0262c"/>
<text x="454.2" y="386" font-size="8.4" font-weight="bold" textLength="17.99999999999998" lengthAdjust="spacingAndGlyphs">BTLA</text>
<path d="M452,362.2 V359.5 H472.5 V362.2" fill="none" stroke="#2a2a2a" stroke-width="1"/>
<text x="462.25" y="358.20" font-size="5.4" text-anchor="middle" fill="#333">ns</text>
<path d="M452,367.7 V365 H463 V367.7" fill="none" stroke="#2a2a2a" stroke-width="1"/>
<text x="457.50" y="363.70" font-size="5.4" text-anchor="middle" fill="#333">ns</text>
<line x1="454" y1="371.6" x2="454" y2="373.6" stroke="#555" stroke-width="0.8"/>
<path d="M451.3,371.20000000000005 L454,369.6 L456.7,371.20000000000005 L454,372.70000000000005 Z" fill="#111"/>
<line x1="463" y1="371.6" x2="463" y2="373.6" stroke="#555" stroke-width="0.8"/>
<path d="M460.3,371.20000000000005 L463,369.6 L465.7,371.20000000000005 L463,372.70000000000005 Z" fill="#1a1aa8"/>
<line x1="472" y1="371.6" x2="472" y2="373.6" stroke="#555" stroke-width="0.8"/>
<path d="M469.3,371.20000000000005 L472,369.6 L474.7,371.20000000000005 L472,372.70000000000005 Z" fill="#d0262c"/>
<text x="480.2" y="386" font-size="8.4" font-weight="bold" textLength="25.29999999999999" lengthAdjust="spacingAndGlyphs">CD160</text>
<path d="M480,358.7 V356 H500.5 V358.7" fill="none" stroke="#2a2a2a" stroke-width="1"/>
<circle cx="490.25" cy="353.20" r="0.9" fill="#2a2a2a"/>
<path d="M480,367.2 V364.5 H491 V367.2" fill="none" stroke="#2a2a2a" stroke-width="1"/>
<text x="485.50" y="363.20" font-size="5.4" text-anchor="middle" fill="#333">ns</text>
<line x1="482.5" y1="371.6" x2="482.5" y2="373.6" stroke="#555" stroke-width="0.8"/>
<path d="M479.8,371.20000000000005 L482.5,369.6 L485.2,371.20000000000005 L482.5,372.70000000000005 Z" fill="#111"/>
<line x1="491.5" y1="371.6" x2="491.5" y2="373.6" stroke="#555" stroke-width="0.8"/>
<path d="M488.8,371.20000000000005 L491.5,369.6 L494.2,371.20000000000005 L491.5,372.70000000000005 Z" fill="#1a1aa8"/>
<line x1="501.5" y1="371.6" x2="501.5" y2="373.6" stroke="#555" stroke-width="0.8"/>
<path d="M498.8,371.20000000000005 L501.5,369.6 L504.2,371.20000000000005 L501.5,372.70000000000005 Z" fill="#d0262c"/>
<path d="M498.8,371.20000000000005 L501.5,369.6 L504.2,371.20000000000005 L501.5,372.70000000000005 Z" fill="#d0262c"/>
</svg>
</body></html>
